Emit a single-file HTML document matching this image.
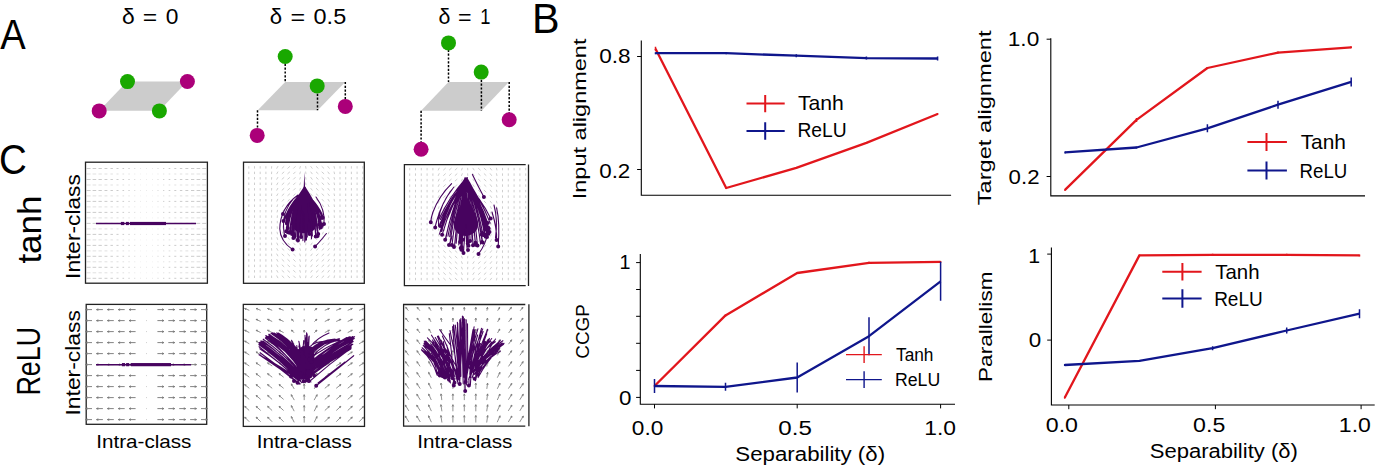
<!DOCTYPE html><html><head><meta charset="utf-8"><style>html,body{margin:0;padding:0;background:#fff;overflow:hidden}svg{display:block}text{font-family:"Liberation Sans",sans-serif}</style></head><body><svg width="1376" height="467" viewBox="0 0 1376 467"><rect width="1376" height="467" fill="#fff"/><text x="0.33" y="49.30" font-size="42.15" textLength="25.45" lengthAdjust="spacingAndGlyphs" fill="#000">A</text>
<text x="532.01" y="33.00" font-size="41.72" textLength="27.57" lengthAdjust="spacingAndGlyphs" fill="#000">B</text>
<text x="-1.06" y="174.00" font-size="42.73" textLength="27.82" lengthAdjust="spacingAndGlyphs" fill="#000">C</text>
<text x="121.94" y="24.20" font-size="22.38" textLength="12.73" lengthAdjust="spacingAndGlyphs" fill="#000">δ</text>
<text x="142.89" y="25.40" font-size="21.71" textLength="14.42" lengthAdjust="spacingAndGlyphs" fill="#000">=</text>
<text x="165.81" y="24.20" font-size="22.38" textLength="12.68" lengthAdjust="spacingAndGlyphs" fill="#000">0</text>
<text x="269.67" y="24.20" font-size="22.38" textLength="12.38" lengthAdjust="spacingAndGlyphs" fill="#000">δ</text>
<text x="290.57" y="25.40" font-size="21.71" textLength="14.66" lengthAdjust="spacingAndGlyphs" fill="#000">=</text>
<text x="313.58" y="24.20" font-size="22.38" textLength="32.60" lengthAdjust="spacingAndGlyphs" fill="#000">0.5</text>
<text x="438.50" y="24.20" font-size="22.38" textLength="11.91" lengthAdjust="spacingAndGlyphs" fill="#000">δ</text>
<text x="458.06" y="25.40" font-size="21.71" textLength="13.58" lengthAdjust="spacingAndGlyphs" fill="#000">=</text>
<text x="480.30" y="24.20" font-size="22.38" textLength="10.19" lengthAdjust="spacingAndGlyphs" fill="#000">1</text>
<polygon points="99.2,110.8 159.2,110.8 187.2,81.6 127.2,81.6" fill="#cccccc"/>
<circle cx="127.5" cy="81.6" r="7.5" fill="#19a800"/>
<circle cx="187.4" cy="81.5" r="7.5" fill="#ab0079"/>
<circle cx="99.2" cy="110.9" r="7.5" fill="#ab0079"/>
<circle cx="159.4" cy="110.9" r="7.5" fill="#19a800"/>
<polygon points="257.7,110.2 317.7,110.2 345.2,81.9 285.2,81.9" fill="#cccccc"/>
<line x1="285.2" y1="60" x2="285.2" y2="81.9" stroke="#000" stroke-width="1.5" stroke-dasharray="2.2,1.6"/>
<line x1="317.5" y1="90" x2="317.5" y2="110.2" stroke="#000" stroke-width="1.5" stroke-dasharray="2.2,1.6"/>
<line x1="345.3" y1="81.9" x2="345.3" y2="101" stroke="#000" stroke-width="1.5" stroke-dasharray="2.2,1.6"/>
<line x1="257.5" y1="110.2" x2="257.5" y2="131" stroke="#000" stroke-width="1.5" stroke-dasharray="2.2,1.6"/>
<circle cx="285.2" cy="56.5" r="7.5" fill="#19a800"/>
<circle cx="317.2" cy="85.9" r="7.5" fill="#19a800"/>
<circle cx="345.3" cy="106.4" r="7.5" fill="#ab0079"/>
<circle cx="257.2" cy="135.4" r="7.5" fill="#ab0079"/>
<polygon points="421.1,110.8 481.5,110.8 508.9,81.9 448.5,81.9" fill="#cccccc"/>
<line x1="448.5" y1="46" x2="448.5" y2="81.9" stroke="#000" stroke-width="1.5" stroke-dasharray="2.2,1.6"/>
<line x1="481.4" y1="76" x2="481.4" y2="110.8" stroke="#000" stroke-width="1.5" stroke-dasharray="2.2,1.6"/>
<line x1="509.2" y1="81.9" x2="509.2" y2="114" stroke="#000" stroke-width="1.5" stroke-dasharray="2.2,1.6"/>
<line x1="421.1" y1="110.8" x2="421.1" y2="144" stroke="#000" stroke-width="1.5" stroke-dasharray="2.2,1.6"/>
<circle cx="448.5" cy="42.9" r="7.5" fill="#19a800"/>
<circle cx="481.2" cy="72.1" r="7.5" fill="#19a800"/>
<circle cx="509.2" cy="119.8" r="7.5" fill="#ab0079"/>
<circle cx="421.1" cy="149.2" r="7.5" fill="#ab0079"/>
<rect x="85.5" y="162.2" width="121.9" height="121.0" fill="none" stroke="#222" stroke-width="1.3"/>
<path d="M86.6 168.5L90.6 168.5M92.6 168.5L96.2 168.5M98.5 168.5L101.8 168.5M104.5 168.5L107.4 168.5M110.5 168.5L112.9 168.5M116.5 168.5L118.5 168.5M122.5 168.5L124.1 168.5M128.4 168.5L129.7 168.5M134.4 168.5L135.2 168.5M140.4 168.5L140.8 168.5M146.4 168.5h0.4M152.4 168.5L152.0 168.5M158.4 168.5L157.6 168.5M164.3 168.5L163.1 168.5M170.3 168.5L168.7 168.5M176.3 168.5L174.3 168.5M182.3 168.5L179.9 168.5M188.3 168.5L185.4 168.5M194.3 168.5L191.0 168.5M200.2 168.5L196.6 168.5M206.2 168.5L202.2 168.5M86.6 179.5L90.6 179.5M92.6 179.5L96.2 179.5M98.5 179.5L101.8 179.5M104.5 179.5L107.4 179.5M110.5 179.5L112.9 179.5M116.5 179.5L118.5 179.5M122.5 179.5L124.1 179.5M128.4 179.5L129.7 179.5M134.4 179.5L135.2 179.5M140.4 179.5L140.8 179.5M146.4 179.5h0.4M152.4 179.5L152.0 179.5M158.4 179.5L157.6 179.5M164.3 179.5L163.1 179.5M170.3 179.5L168.7 179.5M176.3 179.5L174.3 179.5M182.3 179.5L179.9 179.5M188.3 179.5L185.4 179.5M194.3 179.5L191.0 179.5M200.2 179.5L196.6 179.5M206.2 179.5L202.2 179.5M86.6 190.5L90.6 190.5M92.6 190.5L96.2 190.5M98.5 190.5L101.8 190.5M104.5 190.5L107.4 190.5M110.5 190.5L112.9 190.5M116.5 190.5L118.5 190.5M122.5 190.5L124.1 190.5M128.4 190.5L129.7 190.5M134.4 190.5L135.2 190.5M140.4 190.5L140.8 190.5M146.4 190.5h0.4M152.4 190.5L152.0 190.5M158.4 190.5L157.6 190.5M164.3 190.5L163.1 190.5M170.3 190.5L168.7 190.5M176.3 190.5L174.3 190.5M182.3 190.5L179.9 190.5M188.3 190.5L185.4 190.5M194.3 190.5L191.0 190.5M200.2 190.5L196.6 190.5M206.2 190.5L202.2 190.5M86.6 201.4L90.6 201.4M92.6 201.4L96.2 201.4M98.5 201.4L101.8 201.4M104.5 201.4L107.4 201.4M110.5 201.4L112.9 201.4M116.5 201.4L118.5 201.4M122.5 201.4L124.1 201.4M128.4 201.4L129.7 201.4M134.4 201.4L135.2 201.4M140.4 201.4L140.8 201.4M146.4 201.4h0.4M152.4 201.4L152.0 201.4M158.4 201.4L157.6 201.4M164.3 201.4L163.1 201.4M170.3 201.4L168.7 201.4M176.3 201.4L174.3 201.4M182.3 201.4L179.9 201.4M188.3 201.4L185.4 201.4M194.3 201.4L191.0 201.4M200.2 201.4L196.6 201.4M206.2 201.4L202.2 201.4M86.6 212.4L90.6 212.4M92.6 212.4L96.2 212.4M98.5 212.4L101.8 212.4M104.5 212.4L107.4 212.4M110.5 212.4L112.9 212.4M116.5 212.4L118.5 212.4M122.5 212.4L124.1 212.4M128.4 212.4L129.7 212.4M134.4 212.4L135.2 212.4M140.4 212.4L140.8 212.4M146.4 212.4h0.4M152.4 212.4L152.0 212.4M158.4 212.4L157.6 212.4M164.3 212.4L163.1 212.4M170.3 212.4L168.7 212.4M176.3 212.4L174.3 212.4M182.3 212.4L179.9 212.4M188.3 212.4L185.4 212.4M194.3 212.4L191.0 212.4M200.2 212.4L196.6 212.4M206.2 212.4L202.2 212.4M86.6 223.4L90.6 223.4M92.6 223.4L96.2 223.4M98.5 223.4L101.8 223.4M104.5 223.4L107.4 223.4M110.5 223.4L112.9 223.4M116.5 223.4L118.5 223.4M122.5 223.4L124.1 223.4M128.4 223.4L129.7 223.4M134.4 223.4L135.2 223.4M140.4 223.4L140.8 223.4M146.4 223.4h0.4M152.4 223.4L152.0 223.4M158.4 223.4L157.6 223.4M164.3 223.4L163.1 223.4M170.3 223.4L168.7 223.4M176.3 223.4L174.3 223.4M182.3 223.4L179.9 223.4M188.3 223.4L185.4 223.4M194.3 223.4L191.0 223.4M200.2 223.4L196.6 223.4M206.2 223.4L202.2 223.4M86.6 234.4L90.6 234.4M92.6 234.4L96.2 234.4M98.5 234.4L101.8 234.4M104.5 234.4L107.4 234.4M110.5 234.4L112.9 234.4M116.5 234.4L118.5 234.4M122.5 234.4L124.1 234.4M128.4 234.4L129.7 234.4M134.4 234.4L135.2 234.4M140.4 234.4L140.8 234.4M146.4 234.4h0.4M152.4 234.4L152.0 234.4M158.4 234.4L157.6 234.4M164.3 234.4L163.1 234.4M170.3 234.4L168.7 234.4M176.3 234.4L174.3 234.4M182.3 234.4L179.9 234.4M188.3 234.4L185.4 234.4M194.3 234.4L191.0 234.4M200.2 234.4L196.6 234.4M206.2 234.4L202.2 234.4M86.6 245.4L90.6 245.4M92.6 245.4L96.2 245.4M98.5 245.4L101.8 245.4M104.5 245.4L107.4 245.4M110.5 245.4L112.9 245.4M116.5 245.4L118.5 245.4M122.5 245.4L124.1 245.4M128.4 245.4L129.7 245.4M134.4 245.4L135.2 245.4M140.4 245.4L140.8 245.4M146.4 245.4h0.4M152.4 245.4L152.0 245.4M158.4 245.4L157.6 245.4M164.3 245.4L163.1 245.4M170.3 245.4L168.7 245.4M176.3 245.4L174.3 245.4M182.3 245.4L179.9 245.4M188.3 245.4L185.4 245.4M194.3 245.4L191.0 245.4M200.2 245.4L196.6 245.4M206.2 245.4L202.2 245.4M86.6 256.3L90.6 256.3M92.6 256.3L96.2 256.3M98.5 256.3L101.8 256.3M104.5 256.3L107.4 256.3M110.5 256.3L112.9 256.3M116.5 256.3L118.5 256.3M122.5 256.3L124.1 256.3M128.4 256.3L129.7 256.3M134.4 256.3L135.2 256.3M140.4 256.3L140.8 256.3M146.4 256.3h0.4M152.4 256.3L152.0 256.3M158.4 256.3L157.6 256.3M164.3 256.3L163.1 256.3M170.3 256.3L168.7 256.3M176.3 256.3L174.3 256.3M182.3 256.3L179.9 256.3M188.3 256.3L185.4 256.3M194.3 256.3L191.0 256.3M200.2 256.3L196.6 256.3M206.2 256.3L202.2 256.3M86.6 267.3L90.6 267.3M92.6 267.3L96.2 267.3M98.5 267.3L101.8 267.3M104.5 267.3L107.4 267.3M110.5 267.3L112.9 267.3M116.5 267.3L118.5 267.3M122.5 267.3L124.1 267.3M128.4 267.3L129.7 267.3M134.4 267.3L135.2 267.3M140.4 267.3L140.8 267.3M146.4 267.3h0.4M152.4 267.3L152.0 267.3M158.4 267.3L157.6 267.3M164.3 267.3L163.1 267.3M170.3 267.3L168.7 267.3M176.3 267.3L174.3 267.3M182.3 267.3L179.9 267.3M188.3 267.3L185.4 267.3M194.3 267.3L191.0 267.3M200.2 267.3L196.6 267.3M206.2 267.3L202.2 267.3M86.6 278.3L90.6 278.3M92.6 278.3L96.2 278.3M98.5 278.3L101.8 278.3M104.5 278.3L107.4 278.3M110.5 278.3L112.9 278.3M116.5 278.3L118.5 278.3M122.5 278.3L124.1 278.3M128.4 278.3L129.7 278.3M134.4 278.3L135.2 278.3M140.4 278.3L140.8 278.3M146.4 278.3h0.4M152.4 278.3L152.0 278.3M158.4 278.3L157.6 278.3M164.3 278.3L163.1 278.3M170.3 278.3L168.7 278.3M176.3 278.3L174.3 278.3M182.3 278.3L179.9 278.3M188.3 278.3L185.4 278.3M194.3 278.3L191.0 278.3M200.2 278.3L196.6 278.3M206.2 278.3L202.2 278.3" stroke="#666" stroke-width="1.0" fill="none" opacity="0.34"/>
<path d="M86.6 174.0L90.6 174.0M92.6 174.0L96.2 174.0M98.5 174.0L101.8 174.0M104.5 174.0L107.4 174.0M110.5 174.0L112.9 174.0M116.5 174.0L118.5 174.0M122.5 174.0L124.1 174.0M128.4 174.0L129.7 174.0M134.4 174.0L135.2 174.0M140.4 174.0L140.8 174.0M146.4 174.0h0.4M152.4 174.0L152.0 174.0M158.4 174.0L157.6 174.0M164.3 174.0L163.1 174.0M170.3 174.0L168.7 174.0M176.3 174.0L174.3 174.0M182.3 174.0L179.9 174.0M188.3 174.0L185.4 174.0M194.3 174.0L191.0 174.0M200.2 174.0L196.6 174.0M206.2 174.0L202.2 174.0M86.6 185.0L90.6 185.0M92.6 185.0L96.2 185.0M98.5 185.0L101.8 185.0M104.5 185.0L107.4 185.0M110.5 185.0L112.9 185.0M116.5 185.0L118.5 185.0M122.5 185.0L124.1 185.0M128.4 185.0L129.7 185.0M134.4 185.0L135.2 185.0M140.4 185.0L140.8 185.0M146.4 185.0h0.4M152.4 185.0L152.0 185.0M158.4 185.0L157.6 185.0M164.3 185.0L163.1 185.0M170.3 185.0L168.7 185.0M176.3 185.0L174.3 185.0M182.3 185.0L179.9 185.0M188.3 185.0L185.4 185.0M194.3 185.0L191.0 185.0M200.2 185.0L196.6 185.0M206.2 185.0L202.2 185.0M86.6 195.9L90.6 195.9M92.6 195.9L96.2 195.9M98.5 195.9L101.8 195.9M104.5 195.9L107.4 195.9M110.5 195.9L112.9 195.9M116.5 195.9L118.5 195.9M122.5 195.9L124.1 195.9M128.4 195.9L129.7 195.9M134.4 195.9L135.2 195.9M140.4 195.9L140.8 195.9M146.4 195.9h0.4M152.4 195.9L152.0 195.9M158.4 195.9L157.6 195.9M164.3 195.9L163.1 195.9M170.3 195.9L168.7 195.9M176.3 195.9L174.3 195.9M182.3 195.9L179.9 195.9M188.3 195.9L185.4 195.9M194.3 195.9L191.0 195.9M200.2 195.9L196.6 195.9M206.2 195.9L202.2 195.9M86.6 206.9L90.6 206.9M92.6 206.9L96.2 206.9M98.5 206.9L101.8 206.9M104.5 206.9L107.4 206.9M110.5 206.9L112.9 206.9M116.5 206.9L118.5 206.9M122.5 206.9L124.1 206.9M128.4 206.9L129.7 206.9M134.4 206.9L135.2 206.9M140.4 206.9L140.8 206.9M146.4 206.9h0.4M152.4 206.9L152.0 206.9M158.4 206.9L157.6 206.9M164.3 206.9L163.1 206.9M170.3 206.9L168.7 206.9M176.3 206.9L174.3 206.9M182.3 206.9L179.9 206.9M188.3 206.9L185.4 206.9M194.3 206.9L191.0 206.9M200.2 206.9L196.6 206.9M206.2 206.9L202.2 206.9M86.6 217.9L90.6 217.9M92.6 217.9L96.2 217.9M98.5 217.9L101.8 217.9M104.5 217.9L107.4 217.9M110.5 217.9L112.9 217.9M116.5 217.9L118.5 217.9M122.5 217.9L124.1 217.9M128.4 217.9L129.7 217.9M134.4 217.9L135.2 217.9M140.4 217.9L140.8 217.9M146.4 217.9h0.4M152.4 217.9L152.0 217.9M158.4 217.9L157.6 217.9M164.3 217.9L163.1 217.9M170.3 217.9L168.7 217.9M176.3 217.9L174.3 217.9M182.3 217.9L179.9 217.9M188.3 217.9L185.4 217.9M194.3 217.9L191.0 217.9M200.2 217.9L196.6 217.9M206.2 217.9L202.2 217.9M86.6 228.9L90.6 228.9M92.6 228.9L96.2 228.9M98.5 228.9L101.8 228.9M104.5 228.9L107.4 228.9M110.5 228.9L112.9 228.9M116.5 228.9L118.5 228.9M122.5 228.9L124.1 228.9M128.4 228.9L129.7 228.9M134.4 228.9L135.2 228.9M140.4 228.9L140.8 228.9M146.4 228.9h0.4M152.4 228.9L152.0 228.9M158.4 228.9L157.6 228.9M164.3 228.9L163.1 228.9M170.3 228.9L168.7 228.9M176.3 228.9L174.3 228.9M182.3 228.9L179.9 228.9M188.3 228.9L185.4 228.9M194.3 228.9L191.0 228.9M200.2 228.9L196.6 228.9M206.2 228.9L202.2 228.9M86.6 239.9L90.6 239.9M92.6 239.9L96.2 239.9M98.5 239.9L101.8 239.9M104.5 239.9L107.4 239.9M110.5 239.9L112.9 239.9M116.5 239.9L118.5 239.9M122.5 239.9L124.1 239.9M128.4 239.9L129.7 239.9M134.4 239.9L135.2 239.9M140.4 239.9L140.8 239.9M146.4 239.9h0.4M152.4 239.9L152.0 239.9M158.4 239.9L157.6 239.9M164.3 239.9L163.1 239.9M170.3 239.9L168.7 239.9M176.3 239.9L174.3 239.9M182.3 239.9L179.9 239.9M188.3 239.9L185.4 239.9M194.3 239.9L191.0 239.9M200.2 239.9L196.6 239.9M206.2 239.9L202.2 239.9M86.6 250.9L90.6 250.9M92.6 250.9L96.2 250.9M98.5 250.9L101.8 250.9M104.5 250.9L107.4 250.9M110.5 250.9L112.9 250.9M116.5 250.9L118.5 250.9M122.5 250.9L124.1 250.9M128.4 250.9L129.7 250.9M134.4 250.9L135.2 250.9M140.4 250.9L140.8 250.9M146.4 250.9h0.4M152.4 250.9L152.0 250.9M158.4 250.9L157.6 250.9M164.3 250.9L163.1 250.9M170.3 250.9L168.7 250.9M176.3 250.9L174.3 250.9M182.3 250.9L179.9 250.9M188.3 250.9L185.4 250.9M194.3 250.9L191.0 250.9M200.2 250.9L196.6 250.9M206.2 250.9L202.2 250.9M86.6 261.8L90.6 261.8M92.6 261.8L96.2 261.8M98.5 261.8L101.8 261.8M104.5 261.8L107.4 261.8M110.5 261.8L112.9 261.8M116.5 261.8L118.5 261.8M122.5 261.8L124.1 261.8M128.4 261.8L129.7 261.8M134.4 261.8L135.2 261.8M140.4 261.8L140.8 261.8M146.4 261.8h0.4M152.4 261.8L152.0 261.8M158.4 261.8L157.6 261.8M164.3 261.8L163.1 261.8M170.3 261.8L168.7 261.8M176.3 261.8L174.3 261.8M182.3 261.8L179.9 261.8M188.3 261.8L185.4 261.8M194.3 261.8L191.0 261.8M200.2 261.8L196.6 261.8M206.2 261.8L202.2 261.8M86.6 272.8L90.6 272.8M92.6 272.8L96.2 272.8M98.5 272.8L101.8 272.8M104.5 272.8L107.4 272.8M110.5 272.8L112.9 272.8M116.5 272.8L118.5 272.8M122.5 272.8L124.1 272.8M128.4 272.8L129.7 272.8M134.4 272.8L135.2 272.8M140.4 272.8L140.8 272.8M146.4 272.8h0.4M152.4 272.8L152.0 272.8M158.4 272.8L157.6 272.8M164.3 272.8L163.1 272.8M170.3 272.8L168.7 272.8M176.3 272.8L174.3 272.8M182.3 272.8L179.9 272.8M188.3 272.8L185.4 272.8M194.3 272.8L191.0 272.8M200.2 272.8L196.6 272.8M206.2 272.8L202.2 272.8" stroke="#888" stroke-width="1.0" fill="none" opacity="0.25"/>
<rect x="86.2" y="304.4" width="120.49999999999999" height="119.90000000000003" fill="none" stroke="#222" stroke-width="1.3"/>
<path d="M92.0 309.6L85.6 309.6M87.4 308.8L85.6 309.6L87.4 310.4M102.9 309.6L96.5 309.6M98.3 308.8L96.5 309.6L98.3 310.4M113.8 309.6L107.4 309.6M109.2 308.8L107.4 309.6L109.2 310.4M124.7 309.6L118.3 309.6M120.1 308.8L118.3 309.6L120.1 310.4M135.6 309.6L129.2 309.6M131.0 308.8L129.2 309.6L131.0 310.4M146.5 309.6h0.4M157.4 309.6L163.8 309.6M162.0 310.4L163.8 309.6L162.0 308.8M168.3 309.6L174.7 309.6M172.9 310.4L174.7 309.6L172.9 308.8M179.2 309.6L185.6 309.6M183.8 310.4L185.6 309.6L183.8 308.8M190.1 309.6L196.5 309.6M194.7 310.4L196.5 309.6L194.7 308.8M201.0 309.6L207.4 309.6M205.6 310.4L207.4 309.6L205.6 308.8M92.0 320.6L85.6 320.6M87.4 319.8L85.6 320.6L87.4 321.4M102.9 320.6L96.5 320.6M98.3 319.8L96.5 320.6L98.3 321.4M113.8 320.6L107.4 320.6M109.2 319.8L107.4 320.6L109.2 321.4M124.7 320.6L118.3 320.6M120.1 319.8L118.3 320.6L120.1 321.4M135.6 320.6L129.2 320.6M131.0 319.8L129.2 320.6L131.0 321.4M146.5 320.6h0.4M157.4 320.6L163.8 320.6M162.0 321.4L163.8 320.6L162.0 319.8M168.3 320.6L174.7 320.6M172.9 321.4L174.7 320.6L172.9 319.8M179.2 320.6L185.6 320.6M183.8 321.4L185.6 320.6L183.8 319.8M190.1 320.6L196.5 320.6M194.7 321.4L196.5 320.6L194.7 319.8M201.0 320.6L207.4 320.6M205.6 321.4L207.4 320.6L205.6 319.8M92.0 331.6L85.6 331.6M87.4 330.8L85.6 331.6L87.4 332.4M102.9 331.6L96.5 331.6M98.3 330.8L96.5 331.6L98.3 332.4M113.8 331.6L107.4 331.6M109.2 330.8L107.4 331.6L109.2 332.4M124.7 331.6L118.3 331.6M120.1 330.8L118.3 331.6L120.1 332.4M135.6 331.6L129.2 331.6M131.0 330.8L129.2 331.6L131.0 332.4M146.5 331.6h0.4M157.4 331.6L163.8 331.6M162.0 332.4L163.8 331.6L162.0 330.8M168.3 331.6L174.7 331.6M172.9 332.4L174.7 331.6L172.9 330.8M179.2 331.6L185.6 331.6M183.8 332.4L185.6 331.6L183.8 330.8M190.1 331.6L196.5 331.6M194.7 332.4L196.5 331.6L194.7 330.8M201.0 331.6L207.4 331.6M205.6 332.4L207.4 331.6L205.6 330.8M92.0 342.6L85.6 342.6M87.4 341.8L85.6 342.6L87.4 343.4M102.9 342.6L96.5 342.6M98.3 341.8L96.5 342.6L98.3 343.4M113.8 342.6L107.4 342.6M109.2 341.8L107.4 342.6L109.2 343.4M124.7 342.6L118.3 342.6M120.1 341.8L118.3 342.6L120.1 343.4M135.6 342.6L129.2 342.6M131.0 341.8L129.2 342.6L131.0 343.4M146.5 342.6h0.4M157.4 342.6L163.8 342.6M162.0 343.4L163.8 342.6L162.0 341.8M168.3 342.6L174.7 342.6M172.9 343.4L174.7 342.6L172.9 341.8M179.2 342.6L185.6 342.6M183.8 343.4L185.6 342.6L183.8 341.8M190.1 342.6L196.5 342.6M194.7 343.4L196.5 342.6L194.7 341.8M201.0 342.6L207.4 342.6M205.6 343.4L207.4 342.6L205.6 341.8M92.0 353.6L85.6 353.6M87.4 352.8L85.6 353.6L87.4 354.4M102.9 353.6L96.5 353.6M98.3 352.8L96.5 353.6L98.3 354.4M113.8 353.6L107.4 353.6M109.2 352.8L107.4 353.6L109.2 354.4M124.7 353.6L118.3 353.6M120.1 352.8L118.3 353.6L120.1 354.4M135.6 353.6L129.2 353.6M131.0 352.8L129.2 353.6L131.0 354.4M146.5 353.6h0.4M157.4 353.6L163.8 353.6M162.0 354.4L163.8 353.6L162.0 352.8M168.3 353.6L174.7 353.6M172.9 354.4L174.7 353.6L172.9 352.8M179.2 353.6L185.6 353.6M183.8 354.4L185.6 353.6L183.8 352.8M190.1 353.6L196.5 353.6M194.7 354.4L196.5 353.6L194.7 352.8M201.0 353.6L207.4 353.6M205.6 354.4L207.4 353.6L205.6 352.8M92.0 364.6L85.6 364.6M87.4 363.8L85.6 364.6L87.4 365.4M102.9 364.6L96.5 364.6M98.3 363.8L96.5 364.6L98.3 365.4M113.8 364.6L107.4 364.6M109.2 363.8L107.4 364.6L109.2 365.4M124.7 364.6L118.3 364.6M120.1 363.8L118.3 364.6L120.1 365.4M135.6 364.6L129.2 364.6M131.0 363.8L129.2 364.6L131.0 365.4M146.5 364.6h0.4M157.4 364.6L163.8 364.6M162.0 365.4L163.8 364.6L162.0 363.8M168.3 364.6L174.7 364.6M172.9 365.4L174.7 364.6L172.9 363.8M179.2 364.6L185.6 364.6M183.8 365.4L185.6 364.6L183.8 363.8M190.1 364.6L196.5 364.6M194.7 365.4L196.5 364.6L194.7 363.8M201.0 364.6L207.4 364.6M205.6 365.4L207.4 364.6L205.6 363.8M92.0 375.6L85.6 375.6M87.4 374.8L85.6 375.6L87.4 376.4M102.9 375.6L96.5 375.6M98.3 374.8L96.5 375.6L98.3 376.4M113.8 375.6L107.4 375.6M109.2 374.8L107.4 375.6L109.2 376.4M124.7 375.6L118.3 375.6M120.1 374.8L118.3 375.6L120.1 376.4M135.6 375.6L129.2 375.6M131.0 374.8L129.2 375.6L131.0 376.4M146.5 375.6h0.4M157.4 375.6L163.8 375.6M162.0 376.4L163.8 375.6L162.0 374.8M168.3 375.6L174.7 375.6M172.9 376.4L174.7 375.6L172.9 374.8M179.2 375.6L185.6 375.6M183.8 376.4L185.6 375.6L183.8 374.8M190.1 375.6L196.5 375.6M194.7 376.4L196.5 375.6L194.7 374.8M201.0 375.6L207.4 375.6M205.6 376.4L207.4 375.6L205.6 374.8M92.0 386.6L85.6 386.6M87.4 385.8L85.6 386.6L87.4 387.4M102.9 386.6L96.5 386.6M98.3 385.8L96.5 386.6L98.3 387.4M113.8 386.6L107.4 386.6M109.2 385.8L107.4 386.6L109.2 387.4M124.7 386.6L118.3 386.6M120.1 385.8L118.3 386.6L120.1 387.4M135.6 386.6L129.2 386.6M131.0 385.8L129.2 386.6L131.0 387.4M146.5 386.6h0.4M157.4 386.6L163.8 386.6M162.0 387.4L163.8 386.6L162.0 385.8M168.3 386.6L174.7 386.6M172.9 387.4L174.7 386.6L172.9 385.8M179.2 386.6L185.6 386.6M183.8 387.4L185.6 386.6L183.8 385.8M190.1 386.6L196.5 386.6M194.7 387.4L196.5 386.6L194.7 385.8M201.0 386.6L207.4 386.6M205.6 387.4L207.4 386.6L205.6 385.8M92.0 397.6L85.6 397.6M87.4 396.8L85.6 397.6L87.4 398.4M102.9 397.6L96.5 397.6M98.3 396.8L96.5 397.6L98.3 398.4M113.8 397.6L107.4 397.6M109.2 396.8L107.4 397.6L109.2 398.4M124.7 397.6L118.3 397.6M120.1 396.8L118.3 397.6L120.1 398.4M135.6 397.6L129.2 397.6M131.0 396.8L129.2 397.6L131.0 398.4M146.5 397.6h0.4M157.4 397.6L163.8 397.6M162.0 398.4L163.8 397.6L162.0 396.8M168.3 397.6L174.7 397.6M172.9 398.4L174.7 397.6L172.9 396.8M179.2 397.6L185.6 397.6M183.8 398.4L185.6 397.6L183.8 396.8M190.1 397.6L196.5 397.6M194.7 398.4L196.5 397.6L194.7 396.8M201.0 397.6L207.4 397.6M205.6 398.4L207.4 397.6L205.6 396.8M92.0 408.6L85.6 408.6M87.4 407.8L85.6 408.6L87.4 409.4M102.9 408.6L96.5 408.6M98.3 407.8L96.5 408.6L98.3 409.4M113.8 408.6L107.4 408.6M109.2 407.8L107.4 408.6L109.2 409.4M124.7 408.6L118.3 408.6M120.1 407.8L118.3 408.6L120.1 409.4M135.6 408.6L129.2 408.6M131.0 407.8L129.2 408.6L131.0 409.4M146.5 408.6h0.4M157.4 408.6L163.8 408.6M162.0 409.4L163.8 408.6L162.0 407.8M168.3 408.6L174.7 408.6M172.9 409.4L174.7 408.6L172.9 407.8M179.2 408.6L185.6 408.6M183.8 409.4L185.6 408.6L183.8 407.8M190.1 408.6L196.5 408.6M194.7 409.4L196.5 408.6L194.7 407.8M201.0 408.6L207.4 408.6M205.6 409.4L207.4 408.6L205.6 407.8M92.0 419.6L85.6 419.6M87.4 418.8L85.6 419.6L87.4 420.4M102.9 419.6L96.5 419.6M98.3 418.8L96.5 419.6L98.3 420.4M113.8 419.6L107.4 419.6M109.2 418.8L107.4 419.6L109.2 420.4M124.7 419.6L118.3 419.6M120.1 418.8L118.3 419.6L120.1 420.4M135.6 419.6L129.2 419.6M131.0 418.8L129.2 419.6L131.0 420.4M146.5 419.6h0.4M157.4 419.6L163.8 419.6M162.0 420.4L163.8 419.6L162.0 418.8M168.3 419.6L174.7 419.6M172.9 420.4L174.7 419.6L172.9 418.8M179.2 419.6L185.6 419.6M183.8 420.4L185.6 419.6L183.8 418.8M190.1 419.6L196.5 419.6M194.7 420.4L196.5 419.6L194.7 418.8M201.0 419.6L207.4 419.6M205.6 420.4L207.4 419.6L205.6 418.8" stroke="#777" stroke-width="1.0" fill="none" opacity="0.9"/>
<line x1="96" y1="223.5" x2="196.1" y2="223.5" stroke="#47035f" stroke-width="1.5"/>
<rect x="120.9" y="221.9" width="3.299999999999997" height="3.2" fill="#47035f"/>
<rect x="126" y="221.9" width="2.9000000000000057" height="3.2" fill="#47035f"/>
<rect x="130" y="221.9" width="36" height="3.2" fill="#47035f"/>
<line x1="96" y1="364.65" x2="191.1" y2="364.65" stroke="#47035f" stroke-width="1.5"/>
<rect x="121.9" y="363.04999999999995" width="3.1999999999999886" height="3.2" fill="#47035f"/>
<rect x="126.1" y="363.04999999999995" width="3.0999999999999943" height="3.2" fill="#47035f"/>
<rect x="130.9" y="363.04999999999995" width="40.099999999999994" height="3.2" fill="#47035f"/>
<rect x="243.5" y="162.2" width="120.80000000000001" height="121.10000000000002" fill="none" stroke="#222" stroke-width="1.3"/>
<path d="M248.8 166.2L248.8 168.6M254.5 166.2L254.5 168.6M260.2 166.2L260.2 168.6M265.9 166.2L265.9 168.6M271.7 166.2L271.5 168.6M278.0 166.1L276.6 168.7M284.2 166.3L281.8 168.5M289.9 166.3L287.5 168.5M295.5 166.3L293.3 168.5M300.5 166.1L299.7 168.7M305.6 166.1L306.0 168.7M310.6 166.2L312.4 168.6M316.0 166.3L318.4 168.5M321.7 166.3L324.1 168.5M327.7 166.2L329.5 168.6M334.0 166.1L334.6 168.7M340.0 166.2L340.0 168.6M345.7 166.2L345.7 168.6M351.4 166.2L351.4 168.6M357.1 166.2L357.1 168.6M362.8 166.2L362.8 168.6M248.8 171.7L248.8 174.1M254.5 171.7L254.5 174.1M260.2 171.7L260.2 174.1M265.9 171.7L265.9 174.1M271.7 171.6L271.5 174.1M278.0 171.6L276.6 174.1M284.2 171.8L281.8 173.9M289.9 171.8L287.5 173.9M295.5 171.8L293.3 174.0M300.5 171.6L299.7 174.2M305.6 171.6L306.0 174.1M310.6 171.7L312.4 174.1M316.0 171.8L318.4 173.9M321.7 171.8L324.1 173.9M327.7 171.7L329.5 174.1M334.0 171.6L334.6 174.1M340.0 171.7L340.0 174.1M345.7 171.7L345.7 174.1M351.4 171.7L351.4 174.1M357.1 171.7L357.1 174.1M362.8 171.7L362.8 174.1M248.8 177.1L248.8 179.5M254.5 177.1L254.5 179.5M260.2 177.1L260.2 179.5M265.9 177.1L265.9 179.5M271.7 177.1L271.5 179.6M278.0 177.1L276.6 179.6M284.2 177.3L281.8 179.4M289.9 177.3L287.5 179.4M295.5 177.2L293.3 179.4M300.5 177.1L299.7 179.6M305.6 177.1L306.0 179.6M310.6 177.1L312.4 179.6M316.0 177.3L318.4 179.4M321.7 177.3L324.1 179.4M327.7 177.1L329.5 179.5M334.0 177.1L334.6 179.6M340.0 177.1L340.0 179.5M345.7 177.1L345.7 179.5M351.4 177.1L351.4 179.5M357.1 177.1L357.1 179.5M362.8 177.1L362.8 179.5M248.8 182.6L248.8 185.0M254.5 182.6L254.5 185.0M260.2 182.6L260.2 185.0M265.9 182.6L265.9 185.0M271.7 182.6L271.5 185.1M278.0 182.6L276.6 185.1M284.2 182.7L281.8 184.9M289.9 182.7L287.5 184.9M295.5 182.7L293.3 184.9M300.5 182.5L299.7 185.1M305.6 182.6L306.0 185.1M310.6 182.6L312.4 185.0M316.0 182.7L318.4 184.9M321.7 182.7L324.1 184.9M327.7 182.6L329.5 185.0M334.0 182.5L334.6 185.1M340.0 182.6L340.0 185.0M345.7 182.6L345.7 185.0M351.4 182.6L351.4 185.0M357.1 182.6L357.1 185.0M362.8 182.6L362.8 185.0M248.8 188.1L248.8 190.5M254.5 188.1L254.5 190.5M260.2 188.1L260.2 190.5M265.9 188.1L265.9 190.5M271.7 188.0L271.5 190.5M278.0 188.0L276.6 190.5M284.2 188.2L281.8 190.4M289.9 188.2L287.5 190.4M295.5 188.2L293.3 190.4M300.5 188.0L299.7 190.6M305.6 188.0L306.0 190.5M310.6 188.1L312.4 190.5M316.0 188.2L318.4 190.4M321.7 188.2L324.1 190.4M327.7 188.1L329.5 190.5M334.0 188.0L334.6 190.6M340.0 188.1L340.0 190.5M345.7 188.1L345.7 190.5M351.4 188.1L351.4 190.5M357.1 188.1L357.1 190.5M362.8 188.1L362.8 190.5M248.8 193.6L248.8 196.0M254.5 193.6L254.5 196.0M260.2 193.6L260.2 196.0M265.9 193.6L265.9 196.0M271.7 193.5L271.5 196.0M278.0 193.5L276.6 196.0M284.2 193.7L281.8 195.8M289.9 193.7L287.5 195.8M295.5 193.7L293.3 195.8M300.5 193.5L299.7 196.0M305.6 193.5L306.0 196.0M310.6 193.5L312.4 196.0M316.0 193.7L318.4 195.8M321.7 193.7L324.1 195.8M327.7 193.6L329.5 195.9M334.0 193.5L334.6 196.0M340.0 193.6L340.0 196.0M345.7 193.6L345.7 196.0M351.4 193.6L351.4 196.0M357.1 193.6L357.1 196.0M362.8 193.6L362.8 196.0M248.8 199.0L248.8 201.4M254.5 199.0L254.5 201.4M260.2 199.0L260.2 201.4M265.9 199.0L265.9 201.4M271.7 199.0L271.5 201.5M277.9 198.9L276.7 201.5M284.0 199.1L282.0 201.4M289.7 199.1L287.7 201.4M295.4 199.0L293.4 201.4M300.5 198.9L299.7 201.5M305.6 199.0L306.0 201.5M310.7 199.0L312.3 201.5M316.2 199.1L318.2 201.4M321.9 199.1L323.9 201.4M327.8 199.0L329.4 201.5M334.0 198.9L334.6 201.5M340.0 199.0L340.0 201.4M345.7 199.0L345.7 201.4M351.4 199.0L351.4 201.4M357.1 199.0L357.1 201.4M362.8 199.0L362.8 201.4M248.8 204.5L248.8 206.9M254.5 204.5L254.5 206.9M260.2 204.5L260.2 206.9M265.9 204.5L265.9 206.9M271.7 204.5L271.5 206.9M277.7 204.4L276.9 207.0M283.8 204.4L282.2 206.9M289.5 204.4L287.9 206.9M295.1 204.4L293.7 206.9M300.4 204.4L299.8 207.0M305.7 204.4L305.9 206.9M310.9 204.4L312.1 207.0M316.4 204.4L318.0 206.9M322.1 204.4L323.7 206.9M328.0 204.4L329.2 207.0M334.1 204.4L334.5 207.0M340.0 204.5L340.0 206.9M345.7 204.5L345.7 206.9M351.4 204.5L351.4 206.9M357.1 204.5L357.1 206.9M362.8 204.5L362.8 206.9M248.8 210.0L248.8 212.4M254.5 210.0L254.5 212.4M260.2 210.0L260.2 212.4M265.9 210.0L265.9 212.4M271.7 209.9L271.5 212.4M277.6 209.9L277.0 212.4M283.5 209.9L282.5 212.4M289.2 209.9L288.2 212.4M294.9 209.9L293.9 212.4M300.3 209.9L299.9 212.4M305.7 209.9L305.9 212.4M311.1 209.9L311.9 212.4M316.7 209.9L317.7 212.4M322.4 209.9L323.4 212.4M328.2 209.9L329.0 212.4M334.2 209.9L334.4 212.4M340.0 210.0L340.0 212.4M345.7 210.0L345.7 212.4M351.4 210.0L351.4 212.4M357.1 210.0L357.1 212.4M362.8 210.0L362.8 212.4M248.8 215.4L248.8 217.8M254.5 215.4L254.5 217.8M260.2 215.4L260.2 217.8M265.9 215.4L265.9 217.8M271.6 215.4L271.6 217.8M277.4 215.4L277.2 217.9M283.2 215.4L282.8 217.9M288.9 215.4L288.5 217.9M294.6 215.4L294.2 217.9M300.2 215.4L300.0 217.9M305.8 215.4L305.8 217.8M311.3 215.4L311.7 217.9M317.0 215.4L317.4 217.9M322.7 215.4L323.1 217.9M328.4 215.4L328.8 217.9M334.2 215.4L334.4 217.9M340.0 215.4L340.0 217.8M345.7 215.4L345.7 217.8M351.4 215.4L351.4 217.8M357.1 215.4L357.1 217.8M362.8 215.4L362.8 217.8M248.8 220.9L248.8 223.3M254.5 220.9L254.5 223.3M260.2 220.9L260.2 223.3M265.9 220.9L265.9 223.3M271.6 220.9L271.6 223.3M277.3 220.9L277.3 223.3M283.0 220.9L283.0 223.3M288.7 220.9L288.7 223.3M294.4 220.9L294.4 223.3M300.1 220.9L300.1 223.3M305.8 220.9L305.8 223.3M311.5 220.9L311.5 223.3M317.2 220.9L317.2 223.3M322.9 220.9L322.9 223.3M328.6 220.9L328.6 223.3M334.3 220.9L334.3 223.3M340.0 220.9L340.0 223.3M345.7 220.9L345.7 223.3M351.4 220.9L351.4 223.3M357.1 220.9L357.1 223.3M362.8 220.9L362.8 223.3M248.8 226.4L248.8 228.8M254.5 226.4L254.5 228.8M260.2 226.4L260.2 228.8M265.9 226.4L265.9 228.8M271.6 226.4L271.6 228.8M277.2 226.3L277.4 228.8M282.8 226.3L283.2 228.8M288.5 226.3L288.9 228.8M294.2 226.3L294.6 228.8M300.0 226.3L300.2 228.8M305.8 226.4L305.8 228.8M311.7 226.3L311.3 228.8M317.4 226.3L317.0 228.8M323.1 226.3L322.7 228.8M328.8 226.3L328.4 228.8M334.4 226.3L334.2 228.8M340.0 226.4L340.0 228.8M345.7 226.4L345.7 228.8M351.4 226.4L351.4 228.8M357.1 226.4L357.1 228.8M362.8 226.4L362.8 228.8M248.8 231.8L248.8 234.2M254.5 231.8L254.5 234.2M260.2 231.8L260.2 234.2M265.9 231.8L265.9 234.2M271.5 231.8L271.7 234.3M277.0 231.8L277.6 234.3M282.5 231.8L283.5 234.3M288.2 231.8L289.2 234.3M293.9 231.8L294.9 234.3M299.9 231.8L300.3 234.3M305.9 231.8L305.7 234.3M311.9 231.8L311.1 234.3M317.7 231.8L316.7 234.3M323.4 231.8L322.4 234.3M329.0 231.8L328.2 234.3M334.4 231.8L334.2 234.3M340.0 231.8L340.0 234.2M345.7 231.8L345.7 234.2M351.4 231.8L351.4 234.2M357.1 231.8L357.1 234.2M362.8 231.8L362.8 234.2M248.8 237.3L248.8 239.7M254.5 237.3L254.5 239.7M260.2 237.3L260.2 239.7M265.9 237.3L265.9 239.7M271.5 237.3L271.7 239.7M276.9 237.2L277.7 239.8M282.2 237.3L283.8 239.8M287.9 237.3L289.5 239.8M293.7 237.3L295.1 239.8M299.8 237.2L300.4 239.8M305.9 237.3L305.7 239.8M312.1 237.2L310.9 239.8M318.0 237.3L316.4 239.8M323.7 237.3L322.1 239.8M329.2 237.2L328.0 239.8M334.5 237.2L334.1 239.8M340.0 237.3L340.0 239.7M345.7 237.3L345.7 239.7M351.4 237.3L351.4 239.7M357.1 237.3L357.1 239.7M362.8 237.3L362.8 239.7M248.8 242.8L248.8 245.2M254.5 242.8L254.5 245.2M260.2 242.8L260.2 245.2M265.9 242.8L265.9 245.2M271.5 242.7L271.7 245.2M276.7 242.7L277.9 245.3M282.0 242.8L284.0 245.1M287.7 242.8L289.7 245.1M293.4 242.8L295.4 245.1M299.7 242.7L300.5 245.3M306.0 242.7L305.6 245.2M312.3 242.7L310.7 245.2M318.2 242.8L316.2 245.1M323.9 242.8L321.9 245.1M329.4 242.7L327.8 245.2M334.6 242.7L334.0 245.3M340.0 242.8L340.0 245.2M345.7 242.8L345.7 245.2M351.4 242.8L351.4 245.2M357.1 242.8L357.1 245.2M362.8 242.8L362.8 245.2M248.8 248.2L248.8 250.7M254.5 248.2L254.5 250.7M260.2 248.2L260.2 250.7M265.9 248.2L265.9 250.7M271.5 248.2L271.7 250.7M276.6 248.2L278.0 250.7M281.8 248.4L284.2 250.5M287.5 248.4L289.9 250.5M293.3 248.4L295.5 250.5M299.7 248.2L300.5 250.7M306.0 248.2L305.6 250.7M312.4 248.2L310.6 250.7M318.4 248.4L316.0 250.5M324.1 248.4L321.7 250.5M329.5 248.3L327.7 250.6M334.6 248.2L334.0 250.7M340.0 248.2L340.0 250.7M345.7 248.2L345.7 250.7M351.4 248.2L351.4 250.7M357.1 248.2L357.1 250.7M362.8 248.2L362.8 250.7M248.8 253.7L248.8 256.1M254.5 253.7L254.5 256.1M260.2 253.7L260.2 256.1M265.9 253.7L265.9 256.1M271.5 253.7L271.7 256.2M276.6 253.7L278.0 256.2M281.8 253.8L284.2 256.0M287.5 253.8L289.9 256.0M293.3 253.8L295.5 256.0M299.7 253.6L300.5 256.2M306.0 253.7L305.6 256.2M312.4 253.7L310.6 256.1M318.4 253.8L316.0 256.0M324.1 253.8L321.7 256.0M329.5 253.7L327.7 256.1M334.6 253.6L334.0 256.2M340.0 253.7L340.0 256.1M345.7 253.7L345.7 256.1M351.4 253.7L351.4 256.1M357.1 253.7L357.1 256.1M362.8 253.7L362.8 256.1M248.8 259.2L248.8 261.6M254.5 259.2L254.5 261.6M260.2 259.2L260.2 261.6M265.9 259.2L265.9 261.6M271.5 259.1L271.7 261.6M276.6 259.1L278.0 261.6M281.8 259.3L284.2 261.5M287.5 259.3L289.9 261.5M293.3 259.3L295.5 261.5M299.7 259.1L300.5 261.7M306.0 259.1L305.6 261.6M312.4 259.2L310.6 261.6M318.4 259.3L316.0 261.5M324.1 259.3L321.7 261.5M329.5 259.2L327.7 261.6M334.6 259.1L334.0 261.7M340.0 259.2L340.0 261.6M345.7 259.2L345.7 261.6M351.4 259.2L351.4 261.6M357.1 259.2L357.1 261.6M362.8 259.2L362.8 261.6M248.8 264.7L248.8 267.1M254.5 264.7L254.5 267.1M260.2 264.7L260.2 267.1M265.9 264.7L265.9 267.1M271.5 264.6L271.7 267.1M276.6 264.6L278.0 267.1M281.8 264.8L284.2 266.9M287.5 264.8L289.9 266.9M293.3 264.8L295.5 267.0M299.7 264.6L300.5 267.1M306.0 264.6L305.6 267.1M312.4 264.6L310.6 267.1M318.4 264.8L316.0 266.9M324.1 264.8L321.7 266.9M329.5 264.7L327.7 267.1M334.6 264.6L334.0 267.1M340.0 264.7L340.0 267.1M345.7 264.7L345.7 267.1M351.4 264.7L351.4 267.1M357.1 264.7L357.1 267.1M362.8 264.7L362.8 267.1M248.8 270.1L248.8 272.5M254.5 270.1L254.5 272.5M260.2 270.1L260.2 272.5M265.9 270.1L265.9 272.5M271.5 270.1L271.7 272.6M276.6 270.1L278.0 272.6M281.8 270.3L284.2 272.4M287.5 270.3L289.9 272.4M293.3 270.2L295.5 272.4M299.7 270.0L300.5 272.6M306.0 270.1L305.6 272.6M312.4 270.1L310.6 272.5M318.4 270.3L316.0 272.4M324.1 270.3L321.7 272.4M329.5 270.1L327.7 272.5M334.6 270.1L334.0 272.6M340.0 270.1L340.0 272.5M345.7 270.1L345.7 272.5M351.4 270.1L351.4 272.5M357.1 270.1L357.1 272.5M362.8 270.1L362.8 272.5M248.8 275.6L248.8 278.0M254.5 275.6L254.5 278.0M260.2 275.6L260.2 278.0M265.9 275.6L265.9 278.0M271.5 275.6L271.7 278.0M276.6 275.5L278.0 278.1M281.8 275.7L284.2 277.9M287.5 275.7L289.9 277.9M293.3 275.7L295.5 277.9M299.7 275.5L300.5 278.1M306.0 275.5L305.6 278.1M312.4 275.6L310.6 278.0M318.4 275.7L316.0 277.9M324.1 275.7L321.7 277.9M329.5 275.6L327.7 278.0M334.6 275.5L334.0 278.1M340.0 275.6L340.0 278.0M345.7 275.6L345.7 278.0M351.4 275.6L351.4 278.0M357.1 275.6L357.1 278.0M362.8 275.6L362.8 278.0" stroke="#888" stroke-width="1.0" fill="none" opacity="0.4"/>
<path d="M525.7 164.6H404.4V285.6H525.7M528.5 164.4V285.9" fill="none" stroke="#222" stroke-width="1.3"/>
<path d="M409.7 167.9L409.7 170.3M415.5 167.9L415.5 170.3M421.3 167.9L421.3 170.3M427.1 167.9L427.1 170.3M432.9 167.9L432.9 170.3M439.3 167.8L438.1 170.4M445.7 168.0L443.3 170.2M451.5 168.0L449.1 170.2M457.3 168.0L454.9 170.2M462.4 167.8L461.4 170.4M467.6 167.9L467.8 170.3M472.7 167.9L474.3 170.3M478.1 168.0L480.5 170.2M483.9 168.0L486.3 170.2M490.0 167.9L491.8 170.3M496.4 167.8L497.0 170.4M502.5 167.9L502.5 170.3M508.3 167.9L508.3 170.3M514.1 167.9L514.1 170.3M519.9 167.9L519.9 170.3M525.7 167.9L525.7 170.3M409.7 173.4L409.7 175.8M415.5 173.4L415.5 175.8M421.3 173.4L421.3 175.8M427.1 173.4L427.1 175.8M432.9 173.4L432.9 175.8M439.3 173.3L438.1 175.9M445.7 173.5L443.3 175.7M451.5 173.5L449.1 175.7M457.3 173.5L454.9 175.7M462.4 173.3L461.4 175.9M467.6 173.4L467.8 175.8M472.7 173.4L474.3 175.8M478.1 173.5L480.5 175.7M483.9 173.5L486.3 175.7M490.0 173.4L491.8 175.8M496.4 173.3L497.0 175.9M502.5 173.4L502.5 175.8M508.3 173.4L508.3 175.8M514.1 173.4L514.1 175.8M519.9 173.4L519.9 175.8M525.7 173.4L525.7 175.8M409.7 178.9L409.7 181.3M415.5 178.9L415.5 181.3M421.3 178.9L421.3 181.3M427.1 178.9L427.1 181.3M432.9 178.9L432.9 181.3M439.3 178.8L438.1 181.4M445.7 179.0L443.3 181.2M451.5 179.0L449.1 181.2M457.3 179.0L454.9 181.2M462.4 178.8L461.4 181.4M467.6 178.9L467.8 181.3M472.7 178.9L474.3 181.3M478.1 179.0L480.5 181.2M483.9 179.0L486.3 181.2M490.0 178.9L491.8 181.3M496.4 178.8L497.0 181.4M502.5 178.9L502.5 181.3M508.3 178.9L508.3 181.3M514.1 178.9L514.1 181.3M519.9 178.9L519.9 181.3M525.7 178.9L525.7 181.3M409.7 184.4L409.7 186.8M415.5 184.4L415.5 186.8M421.3 184.4L421.3 186.8M427.1 184.4L427.1 186.8M432.9 184.4L432.9 186.8M439.3 184.3L438.1 186.9M445.7 184.5L443.3 186.7M451.5 184.5L449.1 186.7M457.3 184.5L454.9 186.7M462.4 184.3L461.4 186.9M467.6 184.4L467.8 186.8M472.7 184.4L474.3 186.8M478.1 184.5L480.5 186.7M483.9 184.5L486.3 186.7M490.0 184.4L491.8 186.8M496.4 184.3L497.0 186.9M502.5 184.4L502.5 186.8M508.3 184.4L508.3 186.8M514.1 184.4L514.1 186.8M519.9 184.4L519.9 186.8M525.7 184.4L525.7 186.8M409.7 189.9L409.7 192.3M415.5 189.9L415.5 192.3M421.3 189.9L421.3 192.3M427.1 189.9L427.1 192.3M432.9 189.9L432.9 192.3M439.3 189.8L438.1 192.4M445.7 190.0L443.3 192.2M451.5 190.0L449.1 192.2M457.3 190.0L454.9 192.2M462.4 189.8L461.4 192.4M467.6 189.9L467.8 192.3M472.7 189.9L474.3 192.3M478.1 190.0L480.5 192.2M483.9 190.0L486.3 192.2M490.0 189.9L491.8 192.3M496.4 189.8L497.0 192.4M502.5 189.9L502.5 192.3M508.3 189.9L508.3 192.3M514.1 189.9L514.1 192.3M519.9 189.9L519.9 192.3M525.7 189.9L525.7 192.3M409.7 195.4L409.7 197.8M415.5 195.4L415.5 197.8M421.3 195.4L421.3 197.8M427.1 195.4L427.1 197.8M432.9 195.4L432.9 197.8M439.3 195.3L438.1 197.9M445.7 195.5L443.3 197.7M451.5 195.5L449.1 197.7M457.3 195.5L454.9 197.7M462.4 195.3L461.4 197.9M467.6 195.4L467.8 197.8M472.7 195.4L474.3 197.8M478.1 195.5L480.5 197.7M483.9 195.5L486.3 197.7M490.0 195.4L491.8 197.8M496.4 195.3L497.0 197.9M502.5 195.4L502.5 197.8M508.3 195.4L508.3 197.8M514.1 195.4L514.1 197.8M519.9 195.4L519.9 197.8M525.7 195.4L525.7 197.8M409.7 200.9L409.7 203.3M415.5 200.9L415.5 203.3M421.3 200.9L421.3 203.3M427.1 200.9L427.1 203.3M432.9 200.9L432.9 203.3M439.2 200.8L438.2 203.4M445.6 201.0L443.4 203.2M451.4 201.0L449.2 203.2M457.2 201.0L455.0 203.2M462.4 200.8L461.4 203.4M467.6 200.9L467.8 203.3M472.8 200.8L474.2 203.4M478.2 201.0L480.4 203.2M484.0 201.0L486.2 203.2M490.0 200.9L491.8 203.3M496.4 200.8L497.0 203.4M502.5 200.9L502.5 203.3M508.3 200.9L508.3 203.3M514.1 200.9L514.1 203.3M519.9 200.9L519.9 203.3M525.7 200.9L525.7 203.3M409.7 206.4L409.7 208.8M415.5 206.4L415.5 208.8M421.3 206.4L421.3 208.8M427.1 206.4L427.1 208.8M432.9 206.4L432.9 208.8M439.1 206.3L438.3 208.9M445.3 206.4L443.7 208.8M451.1 206.4L449.5 208.8M456.9 206.4L455.3 208.8M462.3 206.3L461.5 208.9M467.6 206.4L467.8 208.8M472.9 206.3L474.1 208.9M478.5 206.4L480.1 208.8M484.3 206.4L485.9 208.8M490.3 206.3L491.5 208.9M496.5 206.3L496.9 208.9M502.5 206.4L502.5 208.8M508.3 206.4L508.3 208.8M514.1 206.4L514.1 208.8M519.9 206.4L519.9 208.8M525.7 206.4L525.7 208.8M409.7 211.9L409.7 214.3M415.5 211.9L415.5 214.3M421.3 211.9L421.3 214.3M427.1 211.9L427.1 214.3M432.9 211.9L432.9 214.3M439.0 211.8L438.4 214.4M445.0 211.8L444.0 214.4M450.8 211.8L449.8 214.4M456.6 211.8L455.6 214.4M462.1 211.8L461.7 214.4M467.6 211.9L467.8 214.3M473.1 211.8L473.9 214.4M478.8 211.8L479.8 214.4M484.6 211.8L485.6 214.4M490.5 211.8L491.3 214.4M496.5 211.8L496.9 214.4M502.5 211.9L502.5 214.3M508.3 211.9L508.3 214.3M514.1 211.9L514.1 214.3M519.9 211.9L519.9 214.3M525.7 211.9L525.7 214.3M409.7 217.4L409.7 219.8M415.5 217.4L415.5 219.8M421.3 217.4L421.3 219.8M427.1 217.4L427.1 219.8M432.9 217.4L432.9 219.8M438.8 217.4L438.6 219.8M444.8 217.3L444.2 219.9M450.6 217.3L450.0 219.9M456.4 217.3L455.8 219.9M462.0 217.4L461.8 219.8M467.7 217.4L467.7 219.8M473.3 217.3L473.7 219.9M479.0 217.3L479.6 219.9M484.8 217.3L485.4 219.9M490.7 217.3L491.1 219.9M496.6 217.4L496.8 219.8M502.5 217.4L502.5 219.8M508.3 217.4L508.3 219.8M514.1 217.4L514.1 219.8M519.9 217.4L519.9 219.8M525.7 217.4L525.7 219.8M409.7 222.9L409.7 225.3M415.5 222.9L415.5 225.3M421.3 222.9L421.3 225.3M427.1 222.9L427.1 225.3M432.9 222.9L432.9 225.3M438.7 222.9L438.7 225.3M444.5 222.9L444.5 225.3M450.3 222.9L450.3 225.3M456.1 222.9L456.1 225.3M461.9 222.9L461.9 225.3M467.7 222.9L467.7 225.3M473.5 222.9L473.5 225.3M479.3 222.9L479.3 225.3M485.1 222.9L485.1 225.3M490.9 222.9L490.9 225.3M496.7 222.9L496.7 225.3M502.5 222.9L502.5 225.3M508.3 222.9L508.3 225.3M514.1 222.9L514.1 225.3M519.9 222.9L519.9 225.3M525.7 222.9L525.7 225.3M409.7 228.4L409.7 230.8M415.5 228.4L415.5 230.8M421.3 228.4L421.3 230.8M427.1 228.4L427.1 230.8M432.9 228.4L432.9 230.8M438.6 228.4L438.8 230.8M444.3 228.3L444.7 230.9M450.1 228.3L450.5 230.9M455.9 228.3L456.3 230.9M461.8 228.4L462.0 230.8M467.7 228.4L467.7 230.8M473.6 228.4L473.4 230.8M479.5 228.3L479.1 230.9M485.3 228.3L484.9 230.9M491.1 228.4L490.7 230.8M496.8 228.4L496.6 230.8M502.5 228.4L502.5 230.8M508.3 228.4L508.3 230.8M514.1 228.4L514.1 230.8M519.9 228.4L519.9 230.8M525.7 228.4L525.7 230.8M409.7 233.9L409.7 236.3M415.5 233.9L415.5 236.3M421.3 233.9L421.3 236.3M427.1 233.9L427.1 236.3M432.9 233.9L432.9 236.3M438.5 233.8L438.9 236.4M444.0 233.8L445.0 236.4M449.8 233.8L450.8 236.4M455.6 233.8L456.6 236.4M461.7 233.8L462.1 236.4M467.7 233.9L467.7 236.3M473.8 233.8L473.2 236.4M479.8 233.8L478.8 236.4M485.6 233.8L484.6 236.4M491.3 233.8L490.5 236.4M496.8 233.9L496.6 236.3M502.5 233.9L502.5 236.3M508.3 233.9L508.3 236.3M514.1 233.9L514.1 236.3M519.9 233.9L519.9 236.3M525.7 233.9L525.7 236.3M409.7 239.4L409.7 241.8M415.5 239.4L415.5 241.8M421.3 239.4L421.3 241.8M427.1 239.4L427.1 241.8M432.9 239.4L432.9 241.8M438.3 239.3L439.1 241.9M443.8 239.3L445.2 241.9M449.6 239.3L451.0 241.9M455.4 239.3L456.8 241.9M461.6 239.3L462.2 241.9M467.8 239.4L467.6 241.8M474.0 239.3L473.0 241.9M480.0 239.3L478.6 241.9M485.8 239.3L484.4 241.9M491.5 239.3L490.3 241.9M496.9 239.3L496.5 241.9M502.5 239.4L502.5 241.8M508.3 239.4L508.3 241.8M514.1 239.4L514.1 241.8M519.9 239.4L519.9 241.8M525.7 239.4L525.7 241.8M409.7 244.9L409.7 247.3M415.5 244.9L415.5 247.3M421.3 244.9L421.3 247.3M427.1 244.9L427.1 247.3M432.9 244.9L432.9 247.3M438.2 244.8L439.2 247.4M443.5 244.9L445.5 247.3M449.3 244.9L451.3 247.3M455.1 244.9L457.1 247.3M461.5 244.8L462.3 247.4M467.8 244.9L467.6 247.3M474.2 244.8L472.8 247.4M480.3 244.9L478.3 247.3M486.1 244.9L484.1 247.3M491.7 244.9L490.1 247.3M497.0 244.8L496.4 247.4M502.5 244.9L502.5 247.3M508.3 244.9L508.3 247.3M514.1 244.9L514.1 247.3M519.9 244.9L519.9 247.3M525.7 244.9L525.7 247.3M409.7 250.4L409.7 252.8M415.5 250.4L415.5 252.8M421.3 250.4L421.3 252.8M427.1 250.4L427.1 252.8M432.9 250.4L432.9 252.8M438.1 250.3L439.3 252.9M443.3 250.5L445.7 252.7M449.1 250.5L451.5 252.7M454.9 250.5L457.3 252.7M461.4 250.3L462.4 252.9M467.8 250.4L467.6 252.8M474.3 250.4L472.7 252.8M480.5 250.5L478.1 252.7M486.3 250.5L483.9 252.7M491.8 250.4L490.0 252.8M497.0 250.3L496.4 252.9M502.5 250.4L502.5 252.8M508.3 250.4L508.3 252.8M514.1 250.4L514.1 252.8M519.9 250.4L519.9 252.8M525.7 250.4L525.7 252.8M409.7 255.9L409.7 258.3M415.5 255.9L415.5 258.3M421.3 255.9L421.3 258.3M427.1 255.9L427.1 258.3M432.9 255.9L432.9 258.3M438.1 255.8L439.3 258.4M443.3 256.0L445.7 258.2M449.1 256.0L451.5 258.2M454.9 256.0L457.3 258.2M461.4 255.8L462.4 258.4M467.8 255.9L467.6 258.3M474.3 255.9L472.7 258.3M480.5 256.0L478.1 258.2M486.3 256.0L483.9 258.2M491.8 255.9L490.0 258.3M497.0 255.8L496.4 258.4M502.5 255.9L502.5 258.3M508.3 255.9L508.3 258.3M514.1 255.9L514.1 258.3M519.9 255.9L519.9 258.3M525.7 255.9L525.7 258.3M409.7 261.4L409.7 263.8M415.5 261.4L415.5 263.8M421.3 261.4L421.3 263.8M427.1 261.4L427.1 263.8M432.9 261.4L432.9 263.8M438.1 261.3L439.3 263.9M443.3 261.5L445.7 263.7M449.1 261.5L451.5 263.7M454.9 261.5L457.3 263.7M461.4 261.3L462.4 263.9M467.8 261.4L467.6 263.8M474.3 261.4L472.7 263.8M480.5 261.5L478.1 263.7M486.3 261.5L483.9 263.7M491.8 261.4L490.0 263.8M497.0 261.3L496.4 263.9M502.5 261.4L502.5 263.8M508.3 261.4L508.3 263.8M514.1 261.4L514.1 263.8M519.9 261.4L519.9 263.8M525.7 261.4L525.7 263.8M409.7 266.9L409.7 269.3M415.5 266.9L415.5 269.3M421.3 266.9L421.3 269.3M427.1 266.9L427.1 269.3M432.9 266.9L432.9 269.3M438.1 266.8L439.3 269.4M443.3 267.0L445.7 269.2M449.1 267.0L451.5 269.2M454.9 267.0L457.3 269.2M461.4 266.8L462.4 269.4M467.8 266.9L467.6 269.3M474.3 266.9L472.7 269.3M480.5 267.0L478.1 269.2M486.3 267.0L483.9 269.2M491.8 266.9L490.0 269.3M497.0 266.8L496.4 269.4M502.5 266.9L502.5 269.3M508.3 266.9L508.3 269.3M514.1 266.9L514.1 269.3M519.9 266.9L519.9 269.3M525.7 266.9L525.7 269.3M409.7 272.4L409.7 274.8M415.5 272.4L415.5 274.8M421.3 272.4L421.3 274.8M427.1 272.4L427.1 274.8M432.9 272.4L432.9 274.8M438.1 272.3L439.3 274.9M443.3 272.5L445.7 274.7M449.1 272.5L451.5 274.7M454.9 272.5L457.3 274.7M461.4 272.3L462.4 274.9M467.8 272.4L467.6 274.8M474.3 272.4L472.7 274.8M480.5 272.5L478.1 274.7M486.3 272.5L483.9 274.7M491.8 272.4L490.0 274.8M497.0 272.3L496.4 274.9M502.5 272.4L502.5 274.8M508.3 272.4L508.3 274.8M514.1 272.4L514.1 274.8M519.9 272.4L519.9 274.8M525.7 272.4L525.7 274.8M409.7 277.9L409.7 280.3M415.5 277.9L415.5 280.3M421.3 277.9L421.3 280.3M427.1 277.9L427.1 280.3M432.9 277.9L432.9 280.3M438.1 277.8L439.3 280.4M443.3 278.0L445.7 280.2M449.1 278.0L451.5 280.2M454.9 278.0L457.3 280.2M461.4 277.8L462.4 280.4M467.8 277.9L467.6 280.3M474.3 277.9L472.7 280.3M480.5 278.0L478.1 280.2M486.3 278.0L483.9 280.2M491.8 277.9L490.0 280.3M497.0 277.8L496.4 280.4M502.5 277.9L502.5 280.3M508.3 277.9L508.3 280.3M514.1 277.9L514.1 280.3M519.9 277.9L519.9 280.3M525.7 277.9L525.7 280.3" stroke="#888" stroke-width="1.0" fill="none" opacity="0.4"/>
<rect x="243.3" y="304.4" width="121.19999999999999" height="122.0" fill="none" stroke="#222" stroke-width="1.3"/>
<path d="M249.3 310.3L244.6 308.5M246.6 308.4L244.6 308.5L246.0 309.9M260.7 310.3L256.1 308.5M258.0 308.4L256.1 308.5L257.5 309.9M272.2 310.3L267.5 308.5M269.5 308.4L267.5 308.5L268.9 309.9M283.6 310.3L279.0 308.5M280.9 308.4L279.0 308.5L280.4 309.9M294.0 310.4L291.5 308.4M293.4 308.9L291.5 308.4L292.4 310.2M304.2 310.4L304.2 308.4M314.4 310.4L316.9 308.4M316.0 310.2L316.9 308.4L315.0 308.9M324.8 310.3L329.4 308.5M328.0 309.9L329.4 308.5L327.5 308.4M336.2 310.3L340.9 308.5M339.5 309.9L340.9 308.5L338.9 308.4M347.7 310.3L352.3 308.5M350.9 309.9L352.3 308.5L350.4 308.4M359.1 310.3L363.8 308.5M362.4 309.9L363.8 308.5L361.8 308.4M249.3 321.5L244.6 319.3M246.6 319.4L244.6 319.3L245.9 320.8M260.7 321.5L256.1 319.3M258.0 319.4L256.1 319.3L257.4 320.8M272.2 321.5L267.5 319.3M269.5 319.4L267.5 319.3L268.8 320.8M283.6 321.5L279.0 319.3M280.9 319.4L279.0 319.3L280.3 320.8M294.0 321.6L291.5 319.2M293.3 319.9L291.5 319.2L292.2 321.0M304.2 321.6L304.2 319.2M314.4 321.6L316.9 319.2M316.2 321.0L316.9 319.2L315.1 319.9M324.8 321.5L329.4 319.3M328.1 320.8L329.4 319.3L327.5 319.4M336.2 321.5L340.9 319.3M339.6 320.8L340.9 319.3L338.9 319.4M347.7 321.5L352.3 319.3M351.0 320.8L352.3 319.3L350.4 319.4M359.1 321.5L363.8 319.3M362.5 320.8L363.8 319.3L361.8 319.4M249.3 332.6L244.6 330.2M246.6 330.3L244.6 330.2L245.8 331.7M260.7 332.6L256.1 330.2M258.0 330.3L256.1 330.2L257.3 331.7M272.2 332.6L267.5 330.2M269.5 330.3L267.5 330.2L268.7 331.7M283.6 332.6L279.0 330.2M280.9 330.3L279.0 330.2L280.2 331.7M294.1 332.8L291.4 330.0M293.3 330.8L291.4 330.0L292.1 331.9M304.2 332.8L304.2 330.0M305.0 331.8L304.2 330.0L303.4 331.8M314.3 332.8L317.0 330.0M316.3 331.9L317.0 330.0L315.1 330.8M324.8 332.6L329.4 330.2M328.2 331.7L329.4 330.2L327.5 330.3M336.2 332.6L340.9 330.2M339.7 331.7L340.9 330.2L338.9 330.3M347.7 332.6L352.3 330.2M351.1 331.7L352.3 330.2L350.4 330.3M359.1 332.6L363.8 330.2M362.6 331.7L363.8 330.2L361.8 330.3M249.3 343.8L244.6 341.0M246.6 341.3L244.6 341.0L245.8 342.6M260.7 343.8L256.1 341.0M258.0 341.3L256.1 341.0L257.2 342.6M272.2 343.8L267.5 341.0M269.5 341.3L267.5 341.0L268.7 342.6M283.6 343.8L279.0 341.0M280.9 341.3L279.0 341.0L280.1 342.6M294.1 344.0L291.4 340.8M293.2 341.7L291.4 340.8L292.0 342.7M304.2 344.0L304.2 340.8M305.0 342.6L304.2 340.8L303.4 342.6M314.3 344.0L317.0 340.8M316.4 342.7L317.0 340.8L315.2 341.7M324.8 343.8L329.4 341.0M328.3 342.6L329.4 341.0L327.5 341.3M336.2 343.8L340.9 341.0M339.7 342.6L340.9 341.0L338.9 341.3M347.7 343.8L352.3 341.0M351.2 342.6L352.3 341.0L350.4 341.3M359.1 343.8L363.8 341.0M362.6 342.6L363.8 341.0L361.8 341.3M249.3 354.9L244.6 351.9M246.6 352.2L244.6 351.9L245.7 353.5M260.7 354.9L256.1 351.9M258.0 352.2L256.1 351.9L257.1 353.5M272.2 354.9L267.5 351.9M269.5 352.2L267.5 351.9L268.6 353.5M283.6 354.9L279.0 351.9M280.9 352.2L279.0 351.9L280.0 353.5M294.1 355.2L291.4 351.6M293.1 352.6L291.4 351.6L291.8 353.5M304.2 355.2L304.2 351.6M305.0 353.4L304.2 351.6L303.4 353.4M314.3 355.2L317.0 351.6M316.6 353.5L317.0 351.6L315.3 352.6M324.8 354.9L329.4 351.9M328.4 353.5L329.4 351.9L327.5 352.2M336.2 354.9L340.9 351.9M339.8 353.5L340.9 351.9L338.9 352.2M347.7 354.9L352.3 351.9M351.3 353.5L352.3 351.9L350.4 352.2M359.1 354.9L363.8 351.9M362.7 353.5L363.8 351.9L361.8 352.2M249.3 366.0L244.6 362.8M246.5 363.1L244.6 362.8L245.6 364.5M260.7 366.0L256.1 362.8M258.0 363.1L256.1 362.8L257.1 364.5M272.2 366.0L267.5 362.8M269.4 363.1L267.5 362.8L268.5 364.5M283.6 366.0L279.0 362.8M280.9 363.1L279.0 362.8L280.0 364.5M294.2 366.4L291.3 362.4M293.0 363.4L291.3 362.4L291.7 364.3M304.2 366.4L304.2 362.4M305.0 364.2L304.2 362.4L303.4 364.2M314.2 366.4L317.1 362.4M316.7 364.3L317.1 362.4L315.4 363.4M324.8 366.0L329.4 362.8M328.4 364.5L329.4 362.8L327.5 363.1M336.2 366.0L340.9 362.8M339.9 364.5L340.9 362.8L339.0 363.1M347.7 366.0L352.3 362.8M351.3 364.5L352.3 362.8L350.4 363.1M359.1 366.0L363.8 362.8M362.8 364.5L363.8 362.8L361.9 363.1M249.3 377.2L244.6 373.6M246.5 374.1L244.6 373.6L245.6 375.4M260.7 377.2L256.1 373.6M258.0 374.1L256.1 373.6L257.0 375.4M272.2 377.2L267.5 373.6M269.4 374.1L267.5 373.6L268.5 375.4M283.6 377.2L279.0 373.6M280.9 374.1L279.0 373.6L279.9 375.4M294.2 377.6L291.3 373.2M293.0 374.2L291.3 373.2L291.6 375.1M304.2 377.6L304.2 373.2M305.0 375.0L304.2 373.2L303.4 375.0M314.2 377.6L317.1 373.2M316.8 375.1L317.1 373.2L315.4 374.2M324.8 377.2L329.4 373.6M328.5 375.4L329.4 373.6L327.5 374.1M336.2 377.2L340.9 373.6M339.9 375.4L340.9 373.6L339.0 374.1M347.7 377.2L352.3 373.6M351.4 375.4L352.3 373.6L350.4 374.1M359.1 377.2L363.8 373.6M362.8 375.4L363.8 373.6L361.9 374.1M249.3 388.3L244.6 384.5M246.5 385.0L244.6 384.5L245.5 386.3M260.7 388.3L256.1 384.5M258.0 385.0L256.1 384.5L257.0 386.3M272.2 388.3L267.5 384.5M269.4 385.0L267.5 384.5L268.4 386.3M283.6 388.3L279.0 384.5M280.9 385.0L279.0 384.5L279.9 386.3M294.2 388.9L291.3 383.9M292.9 385.1L291.3 383.9L291.5 385.9M304.2 388.9L304.2 383.9M305.0 385.7L304.2 383.9L303.4 385.7M314.2 388.9L317.1 383.9M316.9 385.9L317.1 383.9L315.5 385.1M324.8 388.3L329.4 384.5M328.5 386.3L329.4 384.5L327.5 385.0M336.2 388.3L340.9 384.5M340.0 386.3L340.9 384.5L339.0 385.0M347.7 388.3L352.3 384.5M351.4 386.3L352.3 384.5L350.4 385.0M359.1 388.3L363.8 384.5M362.9 386.3L363.8 384.5L361.9 385.0M249.2 399.4L244.7 395.4M246.5 396.0L244.7 395.4L245.5 397.2M260.7 399.4L256.1 395.4M258.0 396.0L256.1 395.4L256.9 397.2M272.1 399.4L267.6 395.4M269.4 396.0L267.6 395.4L268.4 397.2M283.6 399.4L279.0 395.4M280.9 396.0L279.0 395.4L279.8 397.2M294.3 400.1L291.2 394.7M292.8 395.9L291.2 394.7L291.4 396.7M304.2 400.1L304.2 394.7M305.0 396.5L304.2 394.7L303.4 396.5M314.1 400.1L317.2 394.7M317.0 396.7L317.2 394.7L315.6 395.9M324.8 399.4L329.4 395.4M328.6 397.2L329.4 395.4L327.5 396.0M336.3 399.4L340.8 395.4M340.0 397.2L340.8 395.4L339.0 396.0M347.7 399.4L352.3 395.4M351.5 397.2L352.3 395.4L350.4 396.0M359.2 399.4L363.7 395.4M362.9 397.2L363.7 395.4L361.9 396.0M249.2 410.5L244.7 406.3M246.5 406.9L244.7 406.3L245.4 408.1M260.7 410.5L256.1 406.3M258.0 406.9L256.1 406.3L256.9 408.1M272.1 410.5L267.6 406.3M269.4 406.9L267.6 406.3L268.3 408.1M283.6 410.5L279.0 406.3M280.9 406.9L279.0 406.3L279.8 408.1M294.2 411.2L291.3 405.6M292.8 406.9L291.3 405.6L291.4 407.6M304.2 411.3L304.2 405.5M305.0 407.3L304.2 405.5L303.4 407.3M314.2 411.2L317.1 405.6M317.0 407.6L317.1 405.6L315.6 406.9M324.8 410.5L329.4 406.3M328.6 408.1L329.4 406.3L327.5 406.9M336.3 410.5L340.8 406.3M340.1 408.1L340.8 406.3L339.0 406.9M347.7 410.5L352.3 406.3M351.5 408.1L352.3 406.3L350.4 406.9M359.2 410.5L363.7 406.3M363.0 408.1L363.7 406.3L361.9 406.9M249.2 421.7L244.7 417.1M246.5 417.8L244.7 417.1L245.4 419.0M260.7 421.7L256.1 417.1M258.0 417.8L256.1 417.1L256.8 419.0M272.1 421.7L267.6 417.1M269.4 417.8L267.6 417.1L268.3 419.0M283.6 421.7L279.0 417.1M280.9 417.8L279.0 417.1L279.7 419.0M294.2 422.3L291.3 416.5M292.8 417.8L291.3 416.5L291.4 418.5M304.2 422.6L304.2 416.2M305.0 418.0L304.2 416.2L303.4 418.0M314.2 422.3L317.1 416.5M317.0 418.5L317.1 416.5L315.6 417.8M324.8 421.7L329.4 417.1M328.7 419.0L329.4 417.1L327.5 417.8M336.3 421.7L340.8 417.1M340.1 419.0L340.8 417.1L339.0 417.8M347.7 421.7L352.3 417.1M351.6 419.0L352.3 417.1L350.4 417.8M359.2 421.7L363.7 417.1M363.0 419.0L363.7 417.1L361.9 417.8" stroke="#777" stroke-width="1.0" fill="none" opacity="0.8"/>
<path d="M525.3 304.5H403.6V426.1H525.3M528.9 304.3V426.2" fill="none" stroke="#222" stroke-width="1.3"/>
<path d="M408.4 310.7L405.7 307.3M407.4 308.2L405.7 307.3L406.2 309.2M419.9 310.7L417.1 307.3M418.9 308.2L417.1 307.3L417.6 309.2M431.0 310.7L428.9 307.3M430.5 308.4L428.9 307.3L429.2 309.2M441.7 310.7L441.1 307.3M442.2 308.9L441.1 307.3L440.6 309.2M452.9 310.7L452.9 307.3M453.7 309.1L452.9 307.3L452.1 309.1M464.3 310.7L464.3 307.3M465.1 309.1L464.3 307.3L463.5 309.1M475.8 310.7L475.8 307.3M476.6 309.1L475.8 307.3L474.9 309.1M486.9 310.7L487.5 307.3M488.0 309.2L487.5 307.3L486.4 308.9M497.6 310.7L499.7 307.3M499.4 309.2L499.7 307.3L498.1 308.4M508.7 310.7L511.5 307.3M511.0 309.2L511.5 307.3L509.7 308.2M520.2 310.7L522.9 307.3M522.4 309.2L522.9 307.3L521.2 308.2M408.5 321.9L405.6 318.1M407.3 319.1L405.6 318.1L406.1 320.0M420.0 321.9L417.0 318.1M418.8 319.1L417.0 318.1L417.5 320.0M431.0 321.9L428.9 318.1M430.5 319.3L428.9 318.1L429.1 320.1M441.7 321.9L441.1 318.1M442.2 319.8L441.1 318.1L440.6 320.0M452.9 321.9L452.9 318.1M453.7 319.9L452.9 318.1L452.1 319.9M464.3 321.9L464.3 318.1M465.1 319.9L464.3 318.1L463.5 319.9M475.8 321.9L475.8 318.1M476.6 319.9L475.8 318.1L474.9 319.9M486.9 321.9L487.5 318.1M488.0 320.0L487.5 318.1L486.4 319.8M497.6 321.9L499.7 318.1M499.5 320.1L499.7 318.1L498.1 319.3M508.6 321.9L511.6 318.1M511.1 320.0L511.6 318.1L509.8 319.1M520.1 321.9L523.0 318.1M522.5 320.0L523.0 318.1L521.3 319.1M408.6 333.0L405.5 329.0M407.2 329.9L405.5 329.0L406.0 330.9M420.0 333.0L417.0 329.0M418.7 329.9L417.0 329.0L417.4 330.9M431.1 333.0L428.8 329.0M430.4 330.2L428.8 329.0L429.0 330.9M441.7 333.0L441.1 329.0M442.1 330.6L441.1 329.0L440.6 330.9M452.9 333.0L452.9 329.0M453.7 330.8L452.9 329.0L452.1 330.8M464.3 333.0L464.3 329.0M465.1 330.8L464.3 329.0L463.5 330.8M475.8 333.0L475.8 329.0M476.6 330.8L475.8 329.0L474.9 330.8M486.9 333.0L487.5 329.0M488.0 330.9L487.5 329.0L486.5 330.6M497.5 333.0L499.8 329.0M499.6 330.9L499.8 329.0L498.2 330.2M508.6 333.0L511.6 329.0M511.2 330.9L511.6 329.0L509.9 329.9M520.0 333.0L523.1 329.0M522.6 330.9L523.1 329.0L521.4 329.9M408.6 344.2L405.5 339.8M407.2 340.8L405.5 339.8L405.9 341.8M420.1 344.2L416.9 339.8M418.6 340.8L416.9 339.8L417.3 341.8M431.1 344.2L428.8 339.8M430.3 341.0L428.8 339.8L428.9 341.8M441.8 344.2L441.0 339.8M442.1 341.5L441.0 339.8L440.5 341.7M452.9 344.2L452.9 339.8M453.7 341.6L452.9 339.8L452.1 341.6M464.3 344.2L464.3 339.8M465.1 341.6L464.3 339.8L463.5 341.6M475.8 344.2L475.8 339.8M476.6 341.6L475.8 339.8L474.9 341.6M486.8 344.2L487.6 339.8M488.1 341.7L487.6 339.8L486.5 341.5M497.5 344.2L499.8 339.8M499.7 341.8L499.8 339.8L498.3 341.0M508.5 344.2L511.7 339.8M511.3 341.8L511.7 339.8L510.0 340.8M520.0 344.2L523.1 339.8M522.7 341.8L523.1 339.8L521.4 340.8M408.7 355.3L405.4 350.7M407.1 351.7L405.4 350.7L405.8 352.7M420.1 355.3L416.9 350.7M418.6 351.7L416.9 350.7L417.3 352.7M431.2 355.4L428.7 350.6M430.3 351.9L428.7 350.6L428.8 352.6M441.8 355.4L441.0 350.6M442.1 352.3L441.0 350.6L440.5 352.5M452.9 355.4L452.9 350.6M453.7 352.4L452.9 350.6L452.1 352.4M464.3 355.4L464.3 350.6M465.1 352.4L464.3 350.6L463.5 352.4M475.8 355.4L475.8 350.6M476.6 352.4L475.8 350.6L474.9 352.4M486.8 355.4L487.6 350.6M488.1 352.5L487.6 350.6L486.5 352.3M497.4 355.4L499.9 350.6M499.8 352.6L499.9 350.6L498.3 351.9M508.5 355.3L511.7 350.7M511.3 352.7L511.7 350.7L510.0 351.7M519.9 355.3L523.2 350.7M522.8 352.7L523.2 350.7L521.5 351.7M408.7 366.4L405.4 361.6M407.1 362.6L405.4 361.6L405.8 363.5M420.1 366.4L416.9 361.6M418.5 362.6L416.9 361.6L417.2 363.5M431.2 366.5L428.7 361.5M430.2 362.7L428.7 361.5L428.8 363.4M441.8 366.5L441.0 361.5M442.1 363.1L441.0 361.5L440.5 363.4M452.9 366.5L452.9 361.5M453.7 363.3L452.9 361.5L452.1 363.3M464.3 366.5L464.3 361.5M465.1 363.3L464.3 361.5L463.5 363.3M475.8 366.5L475.8 361.5M476.6 363.3L475.8 361.5L474.9 363.3M486.8 366.5L487.6 361.5M488.1 363.4L487.6 361.5L486.5 363.1M497.4 366.5L499.9 361.5M499.8 363.4L499.9 361.5L498.4 362.7M508.5 366.4L511.7 361.6M511.4 363.5L511.7 361.6L510.1 362.6M519.9 366.4L523.2 361.6M522.8 363.5L523.2 361.6L521.5 362.6M408.7 377.5L405.4 372.5M407.0 373.5L405.4 372.5L405.7 374.4M420.2 377.5L416.8 372.5M418.5 373.5L416.8 372.5L417.2 374.4M431.3 377.7L428.6 372.3M430.1 373.6L428.6 372.3L428.7 374.3M441.8 377.7L441.0 372.3M442.1 373.9L441.0 372.3L440.5 374.2M452.9 377.7L452.9 372.3M453.7 374.1L452.9 372.3L452.1 374.1M464.3 377.7L464.3 372.3M465.1 374.1L464.3 372.3L463.5 374.1M475.8 377.7L475.8 372.3M476.6 374.1L475.8 372.3L474.9 374.1M486.8 377.7L487.6 372.3M488.1 374.2L487.6 372.3L486.5 373.9M497.3 377.7L500.0 372.3M499.9 374.3L500.0 372.3L498.5 373.6M508.4 377.5L511.8 372.5M511.4 374.4L511.8 372.5L510.1 373.5M519.9 377.5L523.2 372.5M522.9 374.4L523.2 372.5L521.6 373.5M408.8 388.6L405.3 383.4M407.0 384.4L405.3 383.4L405.6 385.3M420.2 388.6L416.8 383.4M418.4 384.4L416.8 383.4L417.1 385.3M431.3 388.8L428.6 383.2M430.1 384.4L428.6 383.2L428.6 385.1M441.8 388.9L441.0 383.1M442.0 384.8L441.0 383.1L440.4 385.0M452.9 388.9L452.9 383.1M453.7 384.9L452.9 383.1L452.1 384.9M464.3 388.9L464.3 383.1M465.1 384.9L464.3 383.1L463.5 384.9M475.8 388.9L475.8 383.1M476.6 384.9L475.8 383.1L474.9 384.9M486.8 388.9L487.6 383.1M488.2 385.0L487.6 383.1L486.6 384.8M497.3 388.8L500.0 383.2M500.0 385.1L500.0 383.2L498.5 384.4M508.4 388.6L511.8 383.4M511.5 385.3L511.8 383.4L510.2 384.4M519.8 388.6L523.3 383.4M523.0 385.3L523.3 383.4L521.6 384.4M408.8 399.8L405.3 394.2M406.9 395.3L405.3 394.2L405.6 396.2M420.2 399.8L416.8 394.2M418.4 395.3L416.8 394.2L417.0 396.2M431.3 400.0L428.6 394.0M430.1 395.3L428.6 394.0L428.6 396.0M441.8 400.1L441.0 393.9M442.0 395.6L441.0 393.9L440.4 395.8M452.9 400.1L452.9 393.9M453.7 395.7L452.9 393.9L452.1 395.7M464.3 400.1L464.3 393.9M465.1 395.7L464.3 393.9L463.5 395.7M475.8 400.1L475.8 393.9M476.6 395.7L475.8 393.9L474.9 395.7M486.8 400.1L487.6 393.9M488.2 395.8L487.6 393.9L486.6 395.6M497.3 400.0L500.0 394.0M500.0 396.0L500.0 394.0L498.5 395.3M508.4 399.8L511.8 394.2M511.6 396.2L511.8 394.2L510.2 395.3M519.8 399.8L523.3 394.2M523.0 396.2L523.3 394.2L521.7 395.3M408.8 410.9L405.3 405.1M406.9 406.2L405.3 405.1L405.5 407.1M420.3 410.9L416.7 405.1M418.4 406.2L416.7 405.1L417.0 407.1M431.4 411.1L428.5 404.9M430.0 406.2L428.5 404.9L428.6 406.9M441.9 411.3L440.9 404.7M442.0 406.4L440.9 404.7L440.4 406.6M452.9 411.3L452.9 404.7M453.7 406.5L452.9 404.7L452.1 406.5M464.3 411.3L464.3 404.7M465.1 406.5L464.3 404.7L463.5 406.5M475.8 411.3L475.8 404.7M476.6 406.5L475.8 404.7L474.9 406.5M486.7 411.3L487.7 404.7M488.2 406.6L487.7 404.7L486.6 406.4M497.2 411.1L500.1 404.9M500.0 406.9L500.1 404.9L498.6 406.2M508.3 410.9L511.9 405.1M511.6 407.1L511.9 405.1L510.2 406.2M519.8 410.9L523.3 405.1M523.1 407.1L523.3 405.1L521.7 406.2M408.9 422.0L405.2 416.0M406.9 417.1L405.2 416.0L405.5 418.0M420.3 422.0L416.7 416.0M418.3 417.1L416.7 416.0L416.9 418.0M431.4 422.2L428.5 415.8M430.0 417.1L428.5 415.8L428.5 417.8M441.9 422.5L440.9 415.5M442.0 417.2L440.9 415.5L440.4 417.4M452.9 422.5L452.9 415.5M453.7 417.3L452.9 415.5L452.1 417.3M464.3 422.5L464.3 415.5M465.1 417.3L464.3 415.5L463.5 417.3M475.8 422.5L475.8 415.5M476.6 417.3L475.8 415.5L474.9 417.3M486.7 422.5L487.7 415.5M488.2 417.4L487.7 415.5L486.6 417.2M497.2 422.2L500.1 415.8M500.1 417.8L500.1 415.8L498.6 417.1M508.3 422.0L511.9 416.0M511.7 418.0L511.9 416.0L510.3 417.1M519.7 422.0L523.4 416.0M523.1 418.0L523.4 416.0L521.7 417.1" stroke="#777" stroke-width="1.0" fill="none" opacity="0.8"/>
<path d="M304.3 172 L305.2 190 C308 195 312 200 314 207 C317 215 318 222 315 229 C311 234 298 235 294 229 C290 222 291 215 294 207 C297 200 301 195 303.6 190 Z" fill="#47035f"/>
<path d="M304.7 190.1Q292.0 205.4 290.9 231.9M305.3 189.4Q318.1 210.0 319.3 224.7M305.1 189.6Q311.8 209.4 312.4 236.0M304.2 187.2Q288.4 210.2 286.9 223.5M305.2 189.0Q317.1 209.8 318.2 234.1M303.9 188.1Q321.3 210.8 322.7 217.8M304.3 188.8Q311.7 208.5 312.3 235.4M305.1 192.0Q320.3 209.0 321.7 226.0M304.6 190.6Q320.5 206.3 321.9 228.6M305.1 191.9Q309.3 205.5 309.8 233.7M304.9 191.4Q299.1 205.3 298.6 238.1M305.1 191.9Q288.1 208.0 286.6 220.3M303.8 188.0Q293.6 207.4 292.7 237.0M304.2 191.8Q287.6 210.4 286.2 231.2M304.7 189.8Q303.0 208.7 302.9 240.6M304.1 188.5Q305.7 210.9 305.8 240.1M304.6 187.1Q307.1 208.7 307.3 236.9M304.8 188.8Q288.0 209.2 286.5 222.3M305.2 188.3Q286.0 207.7 284.4 221.5M304.3 190.0Q295.0 206.8 294.1 235.2M304.9 188.6Q316.0 206.3 317.0 230.4M304.8 187.5Q291.0 206.9 289.8 232.4M304.0 188.7Q318.5 208.9 319.7 229.6M304.5 188.0Q301.6 209.8 301.4 236.9M304.7 191.0Q289.3 207.1 287.9 232.2M304.3 189.1Q294.7 207.5 293.8 233.9M305.2 191.4Q319.1 210.9 320.4 218.0M304.9 191.2Q321.6 209.0 323.1 217.8M303.8 189.9Q293.3 206.7 292.3 233.5M305.2 191.5Q288.6 210.4 287.2 223.0M304.2 190.3Q287.8 208.1 286.4 217.1M304.1 191.3Q320.6 207.9 322.0 219.4M305.0 187.9Q296.2 209.8 295.4 237.9M304.7 191.3Q319.0 205.3 320.2 224.6M304.5 190.9Q293.0 205.0 292.0 233.9M305.3 191.3Q287.2 205.5 285.7 223.5M304.7 189.9Q294.6 207.2 293.8 235.3M304.8 188.9Q294.8 205.5 293.9 237.3M304.3 191.0Q298.4 208.7 297.9 240.5M304.4 190.5Q298.1 207.8 297.5 239.9M304.4 189.1Q308.2 210.3 308.5 234.6M304.1 189.3Q299.3 205.7 298.8 240.6M304.8 190.7Q314.8 208.4 315.7 236.5M304.9 187.2Q309.2 205.6 309.6 233.9M305.0 187.6Q318.6 210.1 319.9 220.7M305.0 187.2Q320.0 209.6 321.3 227.4M305.2 187.3Q314.9 206.9 315.8 234.6M304.1 190.1Q317.9 209.5 319.0 224.8M304.4 187.4Q297.5 208.0 296.9 237.1M304.8 190.8Q300.9 209.0 300.5 237.2M303.9 187.5Q304.8 209.5 304.8 242.0M304.0 188.3Q306.3 206.2 306.5 239.9M305.2 188.5Q294.3 209.2 293.4 237.9M304.0 187.1Q319.4 207.9 320.7 224.2M304.9 187.7Q289.1 210.9 287.7 228.0M305.0 189.8Q310.9 207.9 311.5 238.7M305.2 189.3Q318.9 206.4 320.2 227.5M305.1 188.2Q316.6 206.1 317.6 236.0M305.1 188.3Q290.6 210.2 289.4 232.8M303.8 191.2Q301.4 206.8 301.1 237.0M298 195 C287 203 280 215 279.8 228.7 C280 238 286 245 292.6 249.6M294 198 C287 206 283 216 283.5 226 C283.7 230 284 234 285 236M326.4 233.5 C322 239 318 244 315.1 246.4M316 197 C322 205 325 214 324 224" stroke="#47035f" stroke-width="1.1" fill="none" opacity="1.0" stroke-linecap="round"/>
<path d="M288.9 231.9a2.0 2.0 0 1 0 4.0 0a2.0 2.0 0 1 0 -4.0 0M317.3 224.7a2.0 2.0 0 1 0 4.0 0a2.0 2.0 0 1 0 -4.0 0M284.9 223.5a2.0 2.0 0 1 0 4.0 0a2.0 2.0 0 1 0 -4.0 0M316.2 234.1a2.0 2.0 0 1 0 4.0 0a2.0 2.0 0 1 0 -4.0 0M320.7 217.8a2.0 2.0 0 1 0 4.0 0a2.0 2.0 0 1 0 -4.0 0M319.7 226.0a2.0 2.0 0 1 0 4.0 0a2.0 2.0 0 1 0 -4.0 0M284.2 231.2a2.0 2.0 0 1 0 4.0 0a2.0 2.0 0 1 0 -4.0 0M292.1 235.2a2.0 2.0 0 1 0 4.0 0a2.0 2.0 0 1 0 -4.0 0M287.8 232.4a2.0 2.0 0 1 0 4.0 0a2.0 2.0 0 1 0 -4.0 0M285.9 232.2a2.0 2.0 0 1 0 4.0 0a2.0 2.0 0 1 0 -4.0 0M291.8 233.9a2.0 2.0 0 1 0 4.0 0a2.0 2.0 0 1 0 -4.0 0M318.4 218.0a2.0 2.0 0 1 0 4.0 0a2.0 2.0 0 1 0 -4.0 0M284.4 217.1a2.0 2.0 0 1 0 4.0 0a2.0 2.0 0 1 0 -4.0 0M318.2 224.6a2.0 2.0 0 1 0 4.0 0a2.0 2.0 0 1 0 -4.0 0M290.0 233.9a2.0 2.0 0 1 0 4.0 0a2.0 2.0 0 1 0 -4.0 0M291.8 235.3a2.0 2.0 0 1 0 4.0 0a2.0 2.0 0 1 0 -4.0 0M291.9 237.3a2.0 2.0 0 1 0 4.0 0a2.0 2.0 0 1 0 -4.0 0M295.9 240.5a2.0 2.0 0 1 0 4.0 0a2.0 2.0 0 1 0 -4.0 0M295.5 239.9a2.0 2.0 0 1 0 4.0 0a2.0 2.0 0 1 0 -4.0 0M313.7 236.5a2.0 2.0 0 1 0 4.0 0a2.0 2.0 0 1 0 -4.0 0M307.6 233.9a2.0 2.0 0 1 0 4.0 0a2.0 2.0 0 1 0 -4.0 0M317.0 224.8a2.0 2.0 0 1 0 4.0 0a2.0 2.0 0 1 0 -4.0 0M291.4 237.9a2.0 2.0 0 1 0 4.0 0a2.0 2.0 0 1 0 -4.0 0M318.7 224.2a2.0 2.0 0 1 0 4.0 0a2.0 2.0 0 1 0 -4.0 0M285.7 228.0a2.0 2.0 0 1 0 4.0 0a2.0 2.0 0 1 0 -4.0 0M318.2 227.5a2.0 2.0 0 1 0 4.0 0a2.0 2.0 0 1 0 -4.0 0M315.6 236.0a2.0 2.0 0 1 0 4.0 0a2.0 2.0 0 1 0 -4.0 0M287.4 232.8a2.0 2.0 0 1 0 4.0 0a2.0 2.0 0 1 0 -4.0 0M299.1 237.0a2.0 2.0 0 1 0 4.0 0a2.0 2.0 0 1 0 -4.0 0M290.6 249.6a2.0 2.0 0 1 0 4.0 0a2.0 2.0 0 1 0 -4.0 0M283.0 236.0a2.0 2.0 0 1 0 4.0 0a2.0 2.0 0 1 0 -4.0 0M313.1 246.4a2.0 2.0 0 1 0 4.0 0a2.0 2.0 0 1 0 -4.0 0M322.0 224.0a2.0 2.0 0 1 0 4.0 0a2.0 2.0 0 1 0 -4.0 0M281.0 214.0a2.0 2.0 0 1 0 4.0 0a2.0 2.0 0 1 0 -4.0 0M281.5 221.0a2.0 2.0 0 1 0 4.0 0a2.0 2.0 0 1 0 -4.0 0" fill="#47035f"/>
<path d="M465.9 181.1Q463.6 200.5 462.1 250.1M464.8 179.6Q466.6 197.5 467.0 248.1M467.4 182.1Q473.2 200.7 477.5 245.6M465.1 179.2Q449.4 197.2 439.2 218.6M466.4 181.0Q463.6 201.0 462.1 245.6M467.0 182.5Q457.3 198.9 452.0 245.0M465.7 183.4Q456.1 199.3 450.1 243.0M467.2 180.8Q477.8 202.9 485.0 229.6M465.3 178.1Q450.3 199.0 440.6 230.2M464.8 177.9Q475.7 201.8 481.7 234.6M466.7 178.4Q468.5 200.9 470.1 241.0M467.4 183.1Q461.7 198.8 459.1 242.3M466.4 178.2Q453.1 202.9 445.2 239.7M465.4 178.0Q455.9 197.5 449.7 236.6M465.9 184.2Q454.8 199.9 448.0 236.2M467.2 183.2Q478.6 198.5 486.2 227.9M467.4 183.7Q476.5 200.6 483.0 234.9M465.2 182.4Q449.6 198.5 439.5 234.1M466.7 178.0Q469.8 198.4 472.1 239.8M467.3 178.9Q479.0 197.1 487.0 230.1M465.6 181.5Q462.3 197.8 460.1 241.9M466.6 181.6Q480.6 197.8 489.5 232.1M467.4 177.6Q450.1 200.8 440.4 225.8M464.7 181.3Q475.1 201.4 480.6 244.1M467.2 180.0Q476.0 201.1 482.2 241.6M467.1 181.5Q479.1 200.7 487.1 234.7M466.4 184.5Q469.8 202.3 472.1 239.1M465.8 183.4Q461.5 197.5 458.8 244.9M465.2 182.4Q449.7 200.0 439.7 224.2M465.4 182.2Q479.5 198.2 487.7 222.9M467.2 179.8Q480.1 201.0 488.7 228.6M467.1 180.2Q463.2 200.5 461.4 249.7M467.0 182.5Q451.2 202.7 442.1 234.8M465.1 180.4Q452.0 200.8 443.5 230.7M465.9 178.0Q458.9 197.2 454.5 246.8M465.4 183.0Q450.0 197.1 440.2 225.9M465.2 178.5Q462.7 197.3 460.7 249.0M466.9 184.2Q463.4 201.1 461.8 247.2M465.9 182.5Q464.0 198.1 462.7 239.8M466.3 182.8Q459.9 199.4 456.2 243.1M466.7 178.4Q479.0 199.7 487.0 234.0M467.1 183.1Q479.6 202.7 487.9 229.7M467.0 182.0Q471.8 201.3 475.4 244.4M466.1 183.0Q480.6 198.9 489.6 235.0M465.8 181.4Q478.6 201.6 486.4 227.7M466.9 178.7Q450.1 199.0 440.3 219.5M466.7 183.4Q450.7 201.1 441.3 231.5M465.2 181.2Q466.3 198.7 466.4 240.5M466.2 179.7Q471.9 199.3 475.5 246.0M467.4 181.2Q479.2 200.4 487.3 233.5M464.6 184.3Q467.5 200.1 468.5 245.8M466.6 178.0Q477.8 200.2 485.0 235.1M465.9 178.4Q481.0 199.6 490.2 223.1M465.1 181.8Q479.7 202.6 488.1 227.6M465.2 182.3Q476.3 198.9 482.6 233.1M464.9 181.1Q470.4 198.5 473.0 245.3M465.7 181.2Q467.1 198.0 467.8 243.4M467.1 181.8Q471.8 202.1 475.4 242.8M465.4 179.7Q476.4 202.5 482.7 242.6M465.2 182.6Q481.3 198.6 490.7 218.6M464.9 180.3Q478.2 201.1 485.7 236.8M467.4 178.3Q453.3 200.0 445.6 239.7M464.7 178.2Q466.3 197.2 466.4 241.6M465.1 178.9Q466.6 202.0 467.0 241.0" stroke="#47035f" stroke-width="1.1" fill="none" opacity="1.0" stroke-linecap="round"/>
<path d="M466 195 C470 203 476 212 478 222 C479 230 474 235 466 236 C458 236 453 230 454 222 C456 212 462 203 466 195Z" fill="#47035f"/>
<path d="M451.6 183.7 Q439 196 432.8 212.5 Q431 218 430.8 222.3M452.5 189 Q442 202 437 220 Q435.5 225 435.2 227.4M454 187 Q445 197 440 212 Q438 220 438.5 226M455.5 193 Q447 205 443 220 Q442 226 442 231M494 205 Q498 220 495.5 238M496.6 207.8 Q500 222 498.2 246.4M492 212 Q497 228 496.6 240M472.4 174.4 Q478 186 483.9 197M488 232 Q486 244 478.5 254M466 225 Q464 242 463.5 253M452 236 Q451 242 449 245" stroke="#47035f" stroke-width="1.1" fill="none" opacity="1.0" stroke-linecap="round"/>
<path d="M460.1 250.1a2.0 2.0 0 1 0 4.0 0a2.0 2.0 0 1 0 -4.0 0M475.5 245.6a2.0 2.0 0 1 0 4.0 0a2.0 2.0 0 1 0 -4.0 0M450.0 245.0a2.0 2.0 0 1 0 4.0 0a2.0 2.0 0 1 0 -4.0 0M483.0 229.6a2.0 2.0 0 1 0 4.0 0a2.0 2.0 0 1 0 -4.0 0M479.7 234.6a2.0 2.0 0 1 0 4.0 0a2.0 2.0 0 1 0 -4.0 0M468.1 241.0a2.0 2.0 0 1 0 4.0 0a2.0 2.0 0 1 0 -4.0 0M443.2 239.7a2.0 2.0 0 1 0 4.0 0a2.0 2.0 0 1 0 -4.0 0M484.2 227.9a2.0 2.0 0 1 0 4.0 0a2.0 2.0 0 1 0 -4.0 0M481.0 234.9a2.0 2.0 0 1 0 4.0 0a2.0 2.0 0 1 0 -4.0 0M485.0 230.1a2.0 2.0 0 1 0 4.0 0a2.0 2.0 0 1 0 -4.0 0M458.1 241.9a2.0 2.0 0 1 0 4.0 0a2.0 2.0 0 1 0 -4.0 0M487.5 232.1a2.0 2.0 0 1 0 4.0 0a2.0 2.0 0 1 0 -4.0 0M485.1 234.7a2.0 2.0 0 1 0 4.0 0a2.0 2.0 0 1 0 -4.0 0M485.7 222.9a2.0 2.0 0 1 0 4.0 0a2.0 2.0 0 1 0 -4.0 0M486.7 228.6a2.0 2.0 0 1 0 4.0 0a2.0 2.0 0 1 0 -4.0 0M459.4 249.7a2.0 2.0 0 1 0 4.0 0a2.0 2.0 0 1 0 -4.0 0M440.1 234.8a2.0 2.0 0 1 0 4.0 0a2.0 2.0 0 1 0 -4.0 0M438.2 225.9a2.0 2.0 0 1 0 4.0 0a2.0 2.0 0 1 0 -4.0 0M459.8 247.2a2.0 2.0 0 1 0 4.0 0a2.0 2.0 0 1 0 -4.0 0M460.7 239.8a2.0 2.0 0 1 0 4.0 0a2.0 2.0 0 1 0 -4.0 0M473.4 244.4a2.0 2.0 0 1 0 4.0 0a2.0 2.0 0 1 0 -4.0 0M485.3 233.5a2.0 2.0 0 1 0 4.0 0a2.0 2.0 0 1 0 -4.0 0M466.5 245.8a2.0 2.0 0 1 0 4.0 0a2.0 2.0 0 1 0 -4.0 0M483.0 235.1a2.0 2.0 0 1 0 4.0 0a2.0 2.0 0 1 0 -4.0 0M486.1 227.6a2.0 2.0 0 1 0 4.0 0a2.0 2.0 0 1 0 -4.0 0M480.6 233.1a2.0 2.0 0 1 0 4.0 0a2.0 2.0 0 1 0 -4.0 0M471.0 245.3a2.0 2.0 0 1 0 4.0 0a2.0 2.0 0 1 0 -4.0 0M465.8 243.4a2.0 2.0 0 1 0 4.0 0a2.0 2.0 0 1 0 -4.0 0M473.4 242.8a2.0 2.0 0 1 0 4.0 0a2.0 2.0 0 1 0 -4.0 0M480.7 242.6a2.0 2.0 0 1 0 4.0 0a2.0 2.0 0 1 0 -4.0 0M488.7 218.6a2.0 2.0 0 1 0 4.0 0a2.0 2.0 0 1 0 -4.0 0M483.7 236.8a2.0 2.0 0 1 0 4.0 0a2.0 2.0 0 1 0 -4.0 0M428.8 222.3a2.0 2.0 0 1 0 4.0 0a2.0 2.0 0 1 0 -4.0 0M433.2 227.4a2.0 2.0 0 1 0 4.0 0a2.0 2.0 0 1 0 -4.0 0M496.2 246.4a2.0 2.0 0 1 0 4.0 0a2.0 2.0 0 1 0 -4.0 0M494.6 240.0a2.0 2.0 0 1 0 4.0 0a2.0 2.0 0 1 0 -4.0 0M461.5 253.0a2.0 2.0 0 1 0 4.0 0a2.0 2.0 0 1 0 -4.0 0M476.5 254.0a2.0 2.0 0 1 0 4.0 0a2.0 2.0 0 1 0 -4.0 0M481.9 197.0a2.0 2.0 0 1 0 4.0 0a2.0 2.0 0 1 0 -4.0 0M447.0 245.0a2.0 2.0 0 1 0 4.0 0a2.0 2.0 0 1 0 -4.0 0M458.7 248.0a2.0 2.0 0 1 0 4.0 0a2.0 2.0 0 1 0 -4.0 0M466.0 250.0a2.0 2.0 0 1 0 4.0 0a2.0 2.0 0 1 0 -4.0 0M480.0 242.0a2.0 2.0 0 1 0 4.0 0a2.0 2.0 0 1 0 -4.0 0M485.0 237.0a2.0 2.0 0 1 0 4.0 0a2.0 2.0 0 1 0 -4.0 0M452.0 247.0a2.0 2.0 0 1 0 4.0 0a2.0 2.0 0 1 0 -4.0 0" fill="#47035f"/>
<path d="M294 352 L303 346 L313 347 L316 368 L309 380 L299 379 Z" fill="#47035f"/>
<path d="M267.2 337.3Q288.3 351.3 303.9 371.1M276.6 334.2Q295.8 344.9 303.3 365.6M259.4 354.9Q280.9 366.2 300.7 380.4M265.8 335.5Q287.4 348.2 301.7 368.7M260.1 344.2Q281.7 359.7 299.8 379.1M274.5 333.1Q293.4 345.0 301.8 365.7M260.3 355.5Q280.9 368.9 300.3 383.9M268.3 336.0Q289.3 351.6 303.4 373.6M260.7 341.0Q281.7 359.2 299.3 380.7M276.8 332.9Q295.7 345.4 303.7 366.6M272.7 332.7Q292.1 344.4 302.0 364.7M261.0 342.9Q281.8 358.4 300.0 376.8M269.7 334.4Q290.8 350.0 304.3 372.5M266.5 337.0Q286.3 353.1 300.5 374.2M272.5 334.2Q292.6 345.5 304.3 365.4M259.8 348.9Q282.3 363.9 301.8 382.6M263.2 339.2Q284.6 354.0 301.2 373.8M277.1 333.2Q296.0 343.4 302.0 364.0M261.1 343.0Q283.2 358.0 302.1 376.9M259.0 344.9Q281.2 360.1 300.1 379.2M260.0 354.9Q280.5 368.4 299.2 384.2M260.6 343.2Q282.8 357.5 301.0 376.8M278.2 333.1Q297.3 343.7 302.6 364.8M269.3 335.7Q290.4 350.1 303.6 372.1M267.3 336.9Q287.3 349.7 300.8 369.1M259.1 346.7Q280.1 362.7 299.5 380.7M259.1 342.6Q281.4 359.0 300.1 379.4M259.4 344.3Q280.4 360.7 299.4 379.3M259.8 342.3Q282.3 357.8 300.8 377.8M272.5 334.5Q292.3 345.2 302.9 365.1M277.7 333.4Q296.7 343.2 305.3 362.9M265.8 337.0Q286.9 350.1 302.3 369.5M276.9 334.2Q296.8 342.0 304.4 362.0M261.1 342.2Q282.5 357.0 300.6 375.6M261.6 341.0Q282.8 355.1 300.1 373.7M271.0 333.3Q292.4 347.0 304.8 369.2M267.6 336.7Q288.9 350.9 303.3 372.1M259.4 343.8Q281.6 360.1 301.6 379.1M263.0 341.0Q283.7 356.0 299.9 375.8M269.6 334.8Q290.3 346.7 302.8 367.2M260.0 342.8Q282.3 357.9 302.0 376.2M274.6 333.3Q294.1 344.1 303.7 364.2M271.6 333.1Q292.1 345.7 304.7 366.3M278.4 333.6Q297.9 344.0 304.8 365.0M268.7 334.3Q289.1 347.4 301.8 367.9M265.8 335.6Q286.6 349.6 300.7 370.4M273.7 333.3Q294.4 345.0 303.7 366.9M260.1 352.7Q280.7 367.2 299.5 383.9M258.8 344.1Q281.0 358.6 301.0 376.1M269.6 334.8Q289.2 348.5 301.4 369.1M265.3 338.0Q286.1 353.0 301.7 373.4M259.0 354.7Q279.8 365.9 298.5 380.5M334.2 340.6Q319.5 341.5 309.9 352.8M352.9 338.3Q330.3 350.0 311.3 366.9M345.5 339.0Q325.6 346.1 309.2 359.4M331.5 342.0Q317.6 343.4 310.9 355.6M350.0 336.7Q327.5 349.4 309.4 368.1M352.2 341.7Q329.3 357.2 308.0 374.8M354.3 338.6Q331.0 352.3 309.9 369.4M353.2 341.6Q329.5 355.7 307.9 372.7M354.6 336.7Q330.3 350.1 309.7 368.7M351.3 345.9Q329.3 357.1 309.9 372.3M351.2 348.1Q328.9 364.2 308.2 382.5M350.2 348.4Q329.6 361.4 310.2 376.2M352.8 336.5Q329.8 350.1 309.1 367.1M352.0 344.8Q329.0 358.8 307.3 374.6M330.1 342.7Q316.9 341.4 308.9 352.1M353.8 338.4Q330.1 348.9 309.6 364.8M350.9 345.8Q330.0 359.5 310.2 374.8M351.7 342.6Q328.8 354.9 308.3 371.0M351.8 344.2Q328.7 358.8 308.2 376.9M331.5 342.1Q318.2 341.1 310.5 352.0M339.6 338.9Q323.4 341.2 310.5 351.5M353.0 341.6Q330.6 358.0 309.8 376.4M351.1 347.3Q329.6 358.7 309.6 372.6M352.2 339.8Q330.3 350.9 311.0 366.0M340.0 340.4Q322.6 341.6 309.5 353.0M352.1 337.9Q329.8 348.5 310.8 364.3M335.1 339.1Q319.7 339.8 308.8 350.7M353.1 336.7Q329.6 351.0 309.9 370.2M352.8 340.0Q330.9 351.6 311.6 367.1M334.4 339.4Q318.4 342.1 309.4 355.5M335.8 340.4Q321.2 341.7 311.3 352.5M349.0 337.1Q327.6 347.2 309.7 362.7M350.8 337.3Q329.6 346.7 312.2 362.0M348.4 337.7Q328.1 347.0 311.5 361.7M350.7 347.8Q329.0 360.0 309.6 375.6M338.9 340.0Q323.2 343.6 312.8 356.1M339.0 338.8Q322.9 341.4 312.6 354.0M352.7 337.0Q329.3 352.2 310.2 372.5M352.8 338.0Q330.0 350.1 310.9 367.5M352.5 340.8Q329.2 352.4 308.7 368.5M350.8 349.1Q329.6 361.5 309.7 375.9M330.4 341.0Q319.1 339.9 312.5 349.1M346.8 337.5Q326.4 348.0 310.8 365.1M350.6 349.1Q328.5 361.9 308.1 377.2M352.8 344.2Q329.4 357.4 307.5 373.0M351.9 344.9Q329.7 358.7 310.0 375.8M330.7 342.2Q318.4 339.0 308.9 347.4M353.4 338.4Q329.5 350.1 308.5 366.3M305.1 337.1L304.6 373.5M307.2 342.2L309.0 368.6M308.7 338.8L307.9 368.9M307.1 333.7L308.1 375.3M306.6 332.8L306.6 373.6M308.8 336.8L308.0 370.7M309.2 336.0L307.4 371.4M305.8 338.0L304.1 370.2M305.0 335.4L307.0 372.3M296.8 354.9Q300.5 363.8 299.3 373.3M286.1 352.3Q295.1 359.7 303.1 368.2M298.8 346.1Q302.7 357.3 305.2 368.8M313.3 347.1Q309.7 358.5 304.6 369.3M312.7 351.0Q310.0 360.4 305.1 368.8M307.8 347.0Q309.0 364.3 306.3 381.5M303.8 340.6Q302.3 360.2 298.3 379.5M310.5 353.2Q313.6 363.4 310.8 373.7M307.2 354.3Q304.8 367.3 300.1 379.7M313.2 355.9Q307.8 365.6 301.0 374.3M299.2 344.6Q303.7 357.1 307.3 369.9M298.8 341.2Q303.7 361.0 303.3 381.5M291.5 340.3Q302.2 360.6 309.6 382.4M289.8 343.8Q300.4 362.9 310.9 382.1M291.2 346.9Q297.5 362.7 301.7 379.3M307.7 342.4Q308.6 362.7 305.3 382.6M288.5 341.8Q298.7 357.1 307.0 373.6M299.4 349.3Q306.9 359.6 311.5 371.6M293.4 348.7Q302.0 358.5 308.2 370.0M305.8 340.1Q308.8 357.1 308.8 374.3M303.1 352.7Q301.1 364.1 298.8 375.5M296.8 345.5Q298.9 358.9 298.3 372.5M329 333 Q317 338 311 346M353.7 355.7 Q336 370 316.2 385.7M345 362 Q331 373 318 383M300 372 L297.5 382.7M305 370 L303.5 381.2" stroke="#47035f" stroke-width="1.1" fill="none" opacity="1.0" stroke-linecap="round"/>
<path d="M307.2 359.4a2.0 2.0 0 1 0 4.0 0a2.0 2.0 0 1 0 -4.0 0M305.9 372.7a2.0 2.0 0 1 0 4.0 0a2.0 2.0 0 1 0 -4.0 0M307.9 372.3a2.0 2.0 0 1 0 4.0 0a2.0 2.0 0 1 0 -4.0 0M308.2 376.2a2.0 2.0 0 1 0 4.0 0a2.0 2.0 0 1 0 -4.0 0M308.2 374.8a2.0 2.0 0 1 0 4.0 0a2.0 2.0 0 1 0 -4.0 0M306.3 371.0a2.0 2.0 0 1 0 4.0 0a2.0 2.0 0 1 0 -4.0 0M307.8 376.4a2.0 2.0 0 1 0 4.0 0a2.0 2.0 0 1 0 -4.0 0M309.3 352.5a2.0 2.0 0 1 0 4.0 0a2.0 2.0 0 1 0 -4.0 0M309.5 361.7a2.0 2.0 0 1 0 4.0 0a2.0 2.0 0 1 0 -4.0 0M305.5 373.0a2.0 2.0 0 1 0 4.0 0a2.0 2.0 0 1 0 -4.0 0M295.5 382.7a2.0 2.0 0 1 0 4.0 0a2.0 2.0 0 1 0 -4.0 0M301.5 381.2a2.0 2.0 0 1 0 4.0 0a2.0 2.0 0 1 0 -4.0 0M305.2 380.5a2.0 2.0 0 1 0 4.0 0a2.0 2.0 0 1 0 -4.0 0M312.0 375.2a2.0 2.0 0 1 0 4.0 0a2.0 2.0 0 1 0 -4.0 0M314.2 385.7a2.0 2.0 0 1 0 4.0 0a2.0 2.0 0 1 0 -4.0 0M289.0 376.5a2.0 2.0 0 1 0 4.0 0a2.0 2.0 0 1 0 -4.0 0M292.0 381.0a2.0 2.0 0 1 0 4.0 0a2.0 2.0 0 1 0 -4.0 0" fill="#47035f"/>
<path d="M424.3 342.8Q439.4 356.3 443.0 376.3M425.6 341.0Q442.0 355.6 448.5 376.6M422.1 347.8Q436.3 359.3 443.1 376.3M421.8 350.5Q434.0 358.2 440.1 371.2M424.5 345.9Q438.5 356.3 445.5 372.3M427.3 352.3Q436.9 362.1 439.8 375.5M427.4 351.8Q438.4 359.6 439.8 373.0M424.4 342.9Q439.4 357.4 445.0 377.4M431.2 353.0Q439.2 363.0 441.4 375.5M430.3 345.4Q443.9 359.1 449.6 377.4M423.9 343.8Q439.4 356.7 447.2 375.3M422.7 348.4Q435.6 358.9 437.5 375.3M425.4 341.4Q440.7 358.8 448.0 380.8M433.8 339.1Q445.0 359.2 449.2 381.9M431.5 335.2Q447.0 357.0 454.5 382.7M424.2 341.1Q440.3 354.9 448.6 374.3M432.5 344.0Q445.5 359.4 452.7 378.3M430.8 343.9Q441.8 357.4 444.0 374.8M423.2 345.3Q436.7 360.1 445.0 378.4M427.4 337.8Q445.7 354.0 454.8 376.6M430.5 348.9Q439.9 361.0 443.4 375.9M425.2 344.6Q441.1 356.9 446.0 376.4M425.8 342.9Q440.3 356.3 445.4 375.3M421.8 350.3Q433.1 360.4 437.1 375.1M423.2 351.6Q435.3 361.2 442.0 375.1M426.7 346.2Q439.8 359.6 445.1 377.5M424.8 343.7Q438.9 356.5 444.4 374.8M432.7 342.0Q443.5 358.5 444.1 378.2M421.5 349.7Q437.2 358.2 442.7 375.1M432.4 340.0Q446.5 357.5 452.8 379.1M459.8 319.8Q460.0 348.9 459.7 378.0M460.9 318.5Q459.9 347.4 460.9 376.2M454.1 329.2Q457.1 351.4 459.4 373.8M461.1 321.7Q462.8 352.6 463.2 383.5M463.6 319.3Q461.7 349.2 459.8 379.2M457.7 326.7Q459.6 350.0 460.2 373.3M463.4 316.9Q460.2 350.4 459.7 384.0M453.4 324.9Q457.2 354.9 460.1 384.9M473.0 329.5Q468.5 355.2 464.8 381.0M457.7 323.2Q459.0 351.6 458.1 380.0M449.3 333.6Q452.4 355.8 453.4 378.2M473.5 332.0Q469.5 352.9 465.8 373.9M455.3 325.0Q458.2 350.7 460.5 376.5M474.1 326.7Q470.3 354.5 465.6 382.1M452.6 326.6Q454.5 355.2 458.0 383.7M467.5 323.7Q468.3 354.3 466.6 385.0M462.4 316.1Q463.1 346.6 464.0 377.2M475.0 331.9Q471.5 358.1 470.4 384.5M473.0 331.6Q471.5 353.0 469.8 374.4M463.6 321.9Q463.2 348.1 465.6 374.3M464.7 319.2Q463.8 347.4 465.2 375.7M450.0 330.6Q455.5 354.0 458.3 377.9M453.7 325.0Q456.7 349.8 458.7 374.6M464.7 324.3Q463.8 354.2 464.9 384.0M474.9 330.5Q469.8 354.2 466.5 378.3M466.2 319.7Q465.7 349.3 466.7 378.8M474.6 329.8Q468.4 351.9 464.8 374.6M457.4 327.1Q457.7 349.7 458.2 372.2M457.4 322.2Q459.0 351.2 458.0 380.3M466.2 321.6Q464.9 350.4 466.4 379.2M489.4 338.4Q480.1 355.6 477.4 374.8M501.9 344.6Q487.2 359.6 476.1 377.4M499.9 341.0Q485.0 357.0 475.6 376.9M498.6 350.0Q483.3 358.6 472.1 372.0M500.4 340.1Q485.1 355.6 477.8 376.0M491.7 338.5Q479.7 352.8 478.5 371.5M504.1 343.3Q486.4 352.3 473.2 367.2M500.5 351.1Q488.3 358.3 478.8 368.9M485.0 341.3Q474.8 356.1 471.0 373.7M497.8 351.3Q484.2 361.0 474.3 374.3M499.1 347.9Q483.7 356.6 475.5 372.2M493.6 341.2Q479.8 354.9 473.6 373.5M487.7 341.8Q478.4 353.2 476.2 367.8M498.6 342.3Q482.7 354.2 476.0 372.9M485.6 341.8Q473.3 357.8 469.8 377.6M488.3 342.0Q477.5 355.2 474.1 371.9M495.5 339.0Q484.2 355.4 478.8 374.7M499.7 348.6Q486.5 361.3 478.1 377.6M502.9 340.7Q484.2 352.7 473.1 372.0M486.1 342.2Q479.7 357.2 477.8 373.3M499.8 347.4Q483.0 353.5 471.9 367.6M489.2 339.1Q480.1 356.6 476.6 376.0M491.6 342.2Q480.3 355.5 476.4 372.4M502.3 343.0Q484.9 352.2 476.0 369.8M488.7 340.8Q475.7 354.5 470.3 372.5M495.3 341.7Q478.9 352.8 470.3 370.7M498.1 347.3Q483.0 357.2 472.6 372.1M498.2 342.7Q483.4 353.5 475.3 369.8M488.3 339.9Q477.2 356.9 470.6 376.0M490.6 341.3Q476.2 351.2 470.8 367.8M503.6 344.3Q486.6 355.7 473.8 371.6M489.3 339.6Q477.1 356.5 472.7 376.8M442.4 336.0Q453.0 357.9 457.4 381.7M440.4 349.5Q451.1 361.8 459.3 375.8M437.4 336.3Q445.1 354.7 450.8 373.8M438.4 336.1Q449.1 357.8 453.8 381.5M432.8 347.6Q444.2 363.0 450.3 381.1M440.7 343.0Q453.4 357.2 459.8 375.1M435.3 337.5Q446.1 354.1 450.6 373.4M435.0 345.2Q446.1 359.3 451.3 376.6M440.8 340.3Q449.9 356.9 456.9 374.4M443.1 349.6Q453.6 363.2 457.2 380.0M446.8 345.1Q450.7 361.7 450.1 378.8M443.3 341.6Q447.5 358.0 448.9 374.9M443.7 347.0Q452.1 360.5 454.4 376.2M439.2 343.9Q447.0 362.8 450.4 383.0M483.1 331.5Q475.0 353.1 470.5 375.7M486.7 333.7Q478.2 355.3 472.2 377.7M487.7 329.2Q477.0 353.8 468.6 379.3M480.6 335.0Q476.6 357.7 475.5 380.7M485.3 342.1Q477.0 357.6 471.1 374.1M477.9 328.8Q470.1 353.0 466.5 378.2M477.9 343.9Q475.1 359.4 475.9 375.1M488.4 339.3Q478.7 355.1 473.5 372.8M482.8 328.9Q473.2 350.8 466.5 373.6M480.5 343.5Q474.1 357.9 470.0 373.1M477.7 334.9Q472.0 352.9 470.2 371.8M481.5 328.3Q474.8 350.1 470.7 372.6M439.7 329.7 Q444 336 451 345.7M465 380 L465.2 391M469 378 L468.9 385.4M455 378 L453.8 385.4" stroke="#47035f" stroke-width="1.1" fill="none" opacity="1.0" stroke-linecap="round"/>
<path d="M441.0 376.3a2.0 2.0 0 1 0 4.0 0a2.0 2.0 0 1 0 -4.0 0M446.5 376.6a2.0 2.0 0 1 0 4.0 0a2.0 2.0 0 1 0 -4.0 0M437.8 375.5a2.0 2.0 0 1 0 4.0 0a2.0 2.0 0 1 0 -4.0 0M437.8 373.0a2.0 2.0 0 1 0 4.0 0a2.0 2.0 0 1 0 -4.0 0M443.0 377.4a2.0 2.0 0 1 0 4.0 0a2.0 2.0 0 1 0 -4.0 0M452.5 382.7a2.0 2.0 0 1 0 4.0 0a2.0 2.0 0 1 0 -4.0 0M450.7 378.3a2.0 2.0 0 1 0 4.0 0a2.0 2.0 0 1 0 -4.0 0M444.0 376.4a2.0 2.0 0 1 0 4.0 0a2.0 2.0 0 1 0 -4.0 0M443.4 375.3a2.0 2.0 0 1 0 4.0 0a2.0 2.0 0 1 0 -4.0 0M442.4 374.8a2.0 2.0 0 1 0 4.0 0a2.0 2.0 0 1 0 -4.0 0M457.7 384.0a2.0 2.0 0 1 0 4.0 0a2.0 2.0 0 1 0 -4.0 0M463.6 382.1a2.0 2.0 0 1 0 4.0 0a2.0 2.0 0 1 0 -4.0 0M456.3 377.9a2.0 2.0 0 1 0 4.0 0a2.0 2.0 0 1 0 -4.0 0M456.2 372.2a2.0 2.0 0 1 0 4.0 0a2.0 2.0 0 1 0 -4.0 0M468.8 367.8a2.0 2.0 0 1 0 4.0 0a2.0 2.0 0 1 0 -4.0 0M436.8 373.0a2.0 2.0 0 1 0 4.0 0a2.0 2.0 0 1 0 -4.0 0M446.2 375.9a2.0 2.0 0 1 0 4.0 0a2.0 2.0 0 1 0 -4.0 0M451.8 385.4a2.0 2.0 0 1 0 4.0 0a2.0 2.0 0 1 0 -4.0 0M463.2 391.0a2.0 2.0 0 1 0 4.0 0a2.0 2.0 0 1 0 -4.0 0M466.9 385.4a2.0 2.0 0 1 0 4.0 0a2.0 2.0 0 1 0 -4.0 0M472.6 378.8a2.0 2.0 0 1 0 4.0 0a2.0 2.0 0 1 0 -4.0 0M446.2 375.0a2.0 2.0 0 1 0 4.0 0a2.0 2.0 0 1 0 -4.0 0" fill="#47035f"/>
<text transform="translate(41.40,263.10) rotate(-90)" x="-0.53" y="0" font-size="33.43" textLength="68.10" lengthAdjust="spacingAndGlyphs" fill="#000">tanh</text>
<text transform="translate(40.00,393.40) rotate(-90)" x="-2.20" y="0" font-size="32.70" textLength="68.68" lengthAdjust="spacingAndGlyphs" fill="#000">ReLU</text>
<text transform="translate(79.50,276.80) rotate(-90)" x="-2.09" y="0" font-size="20.64" textLength="104.61" lengthAdjust="spacingAndGlyphs" fill="#000">Inter-class</text>
<text transform="translate(80.40,413.40) rotate(-90)" x="-2.11" y="0" font-size="20.64" textLength="105.33" lengthAdjust="spacingAndGlyphs" fill="#000">Inter-class</text>
<text x="96.19" y="447.70" font-size="18.31" textLength="95.25" lengthAdjust="spacingAndGlyphs" fill="#000">Intra-class</text>
<text x="256.70" y="447.70" font-size="18.31" textLength="95.15" lengthAdjust="spacingAndGlyphs" fill="#000">Intra-class</text>
<text x="417.19" y="447.70" font-size="18.31" textLength="95.25" lengthAdjust="spacingAndGlyphs" fill="#000">Intra-class</text>
<path d="M641.3 40.5V195.3H951.1" stroke="#000" stroke-width="1.1" fill="none"/>
<line x1="637.0999999999999" y1="56.5" x2="641.3" y2="56.5" stroke="#000" stroke-width="1.0"/>
<line x1="637.0999999999999" y1="169.5" x2="641.3" y2="169.5" stroke="#000" stroke-width="1.0"/>
<text x="599.22" y="63.40" font-size="19.62" textLength="31.36" lengthAdjust="spacingAndGlyphs" fill="#000">0.8</text>
<text x="599.23" y="177.90" font-size="19.62" textLength="31.10" lengthAdjust="spacingAndGlyphs" fill="#000">0.2</text>
<text transform="translate(585.80,197.10) rotate(-90)" x="-2.17" y="0" font-size="19.04" textLength="160.74" lengthAdjust="spacingAndGlyphs" fill="#000">Input alignment</text>
<polyline points="655.5,48.7 726.2,188.0 796.3,167.9 866.4,142.9 937.6,114.0" stroke="#e2161c" stroke-width="2.3" fill="none" stroke-linejoin="round"/>
<path d="M655.5 46.7V50.7M726.2 187.0V189.0M796.3 166.9V168.9M866.4 141.9V143.9M937.6 113.0V115.0" stroke="#e2161c" stroke-width="1.5" fill="none"/>
<polyline points="655.5,53.2 726.2,53.2 796.3,55.7 866.4,58.1 937.6,58.5" stroke="#0f168c" stroke-width="2.3" fill="none" stroke-linejoin="round"/>
<path d="M655.5 52.2V54.2M726.2 52.2V54.2M796.3 54.2V57.2M866.4 56.6V59.6M937.6 56.5V60.5" stroke="#0f168c" stroke-width="1.5" fill="none"/>
<path d="M746.5 103.6H784.7M765.2 94.89999999999999V112.3" stroke="#e2161c" stroke-width="2.0" fill="none"/>
<path d="M746.5 131.0H784.7M765.2 122.3V139.7" stroke="#0f168c" stroke-width="2.0" fill="none"/>
<text x="797.95" y="110.10" font-size="20.06" textLength="45.86" lengthAdjust="spacingAndGlyphs" fill="#000">Tanh</text>
<text x="797.42" y="136.80" font-size="20.06" textLength="49.27" lengthAdjust="spacingAndGlyphs" fill="#000">ReLU</text>
<path d="M1050.8 38.3V195.9H1365" stroke="#000" stroke-width="1.1" fill="none"/>
<line x1="1046.6" y1="39.2" x2="1050.8" y2="39.2" stroke="#000" stroke-width="1.0"/>
<line x1="1046.6" y1="176.5" x2="1050.8" y2="176.5" stroke="#000" stroke-width="1.0"/>
<text x="1007.77" y="46.30" font-size="19.62" textLength="31.51" lengthAdjust="spacingAndGlyphs" fill="#000">1.0</text>
<text x="1008.63" y="183.80" font-size="19.62" textLength="30.89" lengthAdjust="spacingAndGlyphs" fill="#000">0.2</text>
<text transform="translate(991.20,204.80) rotate(-90)" x="-0.52" y="0" font-size="19.04" textLength="174.89" lengthAdjust="spacingAndGlyphs" fill="#000">Target alignment</text>
<polyline points="1065.0,189.9 1136.5,119.9 1207.4,68.0 1278.0,52.6 1351.2,47.3" stroke="#e2161c" stroke-width="2.3" fill="none" stroke-linejoin="round"/>
<path d="M1065.0 188.9V190.9M1136.5 117.9V121.9M1207.4 67.0V69.0M1278.0 51.6V53.6M1351.2 46.3V48.3" stroke="#e2161c" stroke-width="1.5" fill="none"/>
<polyline points="1065.0,152.4 1136.5,147.5 1207.4,128.3 1278.0,104.7 1351.2,81.9" stroke="#0f168c" stroke-width="2.3" fill="none" stroke-linejoin="round"/>
<path d="M1065.0 151.4V153.4M1136.5 146.5V148.5M1207.4 124.3V132.3M1278.0 100.7V108.7M1351.2 77.4V86.4" stroke="#0f168c" stroke-width="1.5" fill="none"/>
<path d="M1247.4 142.1H1286.9M1266.5 133.1V151.1" stroke="#e2161c" stroke-width="2.0" fill="none"/>
<path d="M1247.4 170.6H1286.9M1266.5 161.6V179.6" stroke="#0f168c" stroke-width="2.0" fill="none"/>
<text x="1300.65" y="149.40" font-size="20.06" textLength="45.34" lengthAdjust="spacingAndGlyphs" fill="#000">Tanh</text>
<text x="1299.57" y="177.90" font-size="20.06" textLength="47.77" lengthAdjust="spacingAndGlyphs" fill="#000">ReLU</text>
<path d="M640.3 254.0V404.2H955.0" stroke="#000" stroke-width="1.1" fill="none"/>
<line x1="636.0999999999999" y1="262.6" x2="640.3" y2="262.6" stroke="#000" stroke-width="1.0"/>
<line x1="636.0999999999999" y1="289.5" x2="640.3" y2="289.5" stroke="#000" stroke-width="1.0"/>
<line x1="636.0999999999999" y1="316.3" x2="640.3" y2="316.3" stroke="#000" stroke-width="1.0"/>
<line x1="636.0999999999999" y1="343.3" x2="640.3" y2="343.3" stroke="#000" stroke-width="1.0"/>
<line x1="636.0999999999999" y1="370.4" x2="640.3" y2="370.4" stroke="#000" stroke-width="1.0"/>
<line x1="636.0999999999999" y1="397.4" x2="640.3" y2="397.4" stroke="#000" stroke-width="1.0"/>
<line x1="654.5" y1="404.2" x2="654.5" y2="408.4" stroke="#000" stroke-width="1.0"/>
<line x1="797.2" y1="404.2" x2="797.2" y2="408.4" stroke="#000" stroke-width="1.0"/>
<line x1="940.6" y1="404.2" x2="940.6" y2="408.4" stroke="#000" stroke-width="1.0"/>
<text x="619.50" y="269.40" font-size="19.62" textLength="10.96" lengthAdjust="spacingAndGlyphs" fill="#000">1</text>
<text x="619.03" y="404.50" font-size="19.62" textLength="12.45" lengthAdjust="spacingAndGlyphs" fill="#000">0</text>
<text x="631.82" y="435.20" font-size="19.62" textLength="31.47" lengthAdjust="spacingAndGlyphs" fill="#000">0.0</text>
<text x="778.26" y="435.20" font-size="19.62" textLength="33.56" lengthAdjust="spacingAndGlyphs" fill="#000">0.5</text>
<text x="924.26" y="435.20" font-size="19.62" textLength="31.73" lengthAdjust="spacingAndGlyphs" fill="#000">1.0</text>
<text x="735.39" y="461.00" font-size="19.33" textLength="149.69" lengthAdjust="spacingAndGlyphs" fill="#000">Separability (δ)</text>
<text transform="translate(589.20,357.70) rotate(-90)" x="-0.96" y="0" font-size="19.04" textLength="54.45" lengthAdjust="spacingAndGlyphs" fill="#000">CCGP</text>
<polyline points="654.5,386.0 725.5,315.4 797.2,273.0 869.0,262.8 940.6,261.9" stroke="#e2161c" stroke-width="2.3" fill="none" stroke-linejoin="round"/>
<path d="M654.5 385.0V387.0M725.5 314.4V316.4M797.2 272.0V274.0M869.0 261.8V263.8M940.6 260.9V262.9" stroke="#e2161c" stroke-width="1.5" fill="none"/>
<polyline points="654.5,386.0 725.5,386.8 797.2,377.5 869.0,336.2 940.6,281.3" stroke="#0f168c" stroke-width="2.3" fill="none" stroke-linejoin="round"/>
<path d="M654.5 379.0V393.0M725.5 382.8V390.8M797.2 362.5V392.5M869.0 317.2V355.2M940.6 261.8V300.8" stroke="#0f168c" stroke-width="1.5" fill="none"/>
<path d="M846 354.6H881.8M864.1 346.3V362.90000000000003" stroke="#e2161c" stroke-width="1.4" fill="none"/>
<path d="M846 379.6H881.8M864.1 371.3V387.90000000000003" stroke="#0f168c" stroke-width="1.4" fill="none"/>
<text x="896.03" y="361.20" font-size="18.75" textLength="37.44" lengthAdjust="spacingAndGlyphs" fill="#000">Tanh</text>
<text x="894.95" y="385.60" font-size="18.75" textLength="45.22" lengthAdjust="spacingAndGlyphs" fill="#000">ReLU</text>
<path d="M1051.4 247.4V405.0H1374.7" stroke="#000" stroke-width="1.1" fill="none"/>
<line x1="1047.2" y1="254.1" x2="1051.4" y2="254.1" stroke="#000" stroke-width="1.0"/>
<line x1="1047.2" y1="340.1" x2="1051.4" y2="340.1" stroke="#000" stroke-width="1.0"/>
<line x1="1068.8" y1="405.0" x2="1068.8" y2="409.2" stroke="#000" stroke-width="1.0"/>
<line x1="1215.4" y1="405.0" x2="1215.4" y2="409.2" stroke="#000" stroke-width="1.0"/>
<line x1="1361.1" y1="405.0" x2="1361.1" y2="409.2" stroke="#000" stroke-width="1.0"/>
<text x="1028.37" y="262.50" font-size="19.62" textLength="11.87" lengthAdjust="spacingAndGlyphs" fill="#000">1</text>
<text x="1028.73" y="346.90" font-size="19.62" textLength="12.45" lengthAdjust="spacingAndGlyphs" fill="#000">0</text>
<text x="1045.79" y="432.40" font-size="19.62" textLength="32.21" lengthAdjust="spacingAndGlyphs" fill="#000">0.0</text>
<text x="1193.10" y="432.40" font-size="19.62" textLength="32.18" lengthAdjust="spacingAndGlyphs" fill="#000">0.5</text>
<text x="1338.84" y="432.40" font-size="19.62" textLength="32.06" lengthAdjust="spacingAndGlyphs" fill="#000">1.0</text>
<text x="1149.70" y="458.40" font-size="19.33" textLength="148.17" lengthAdjust="spacingAndGlyphs" fill="#000">Separability (δ)</text>
<text transform="translate(991.90,380.10) rotate(-90)" x="-1.85" y="0" font-size="19.04" textLength="110.44" lengthAdjust="spacingAndGlyphs" fill="#000">Parallelism</text>
<polyline points="1064.7,397.7 1139.4,255.4 1212.6,254.8 1286.7,254.8 1359.5,255.4" stroke="#e2161c" stroke-width="2.3" fill="none" stroke-linejoin="round"/>
<path d="M1064.7 396.7V398.7M1139.4 254.4V256.4M1212.6 253.8V255.8M1286.7 253.8V255.8M1359.5 254.4V256.4" stroke="#e2161c" stroke-width="1.5" fill="none"/>
<polyline points="1064.7,365.0 1139.4,360.9 1212.6,348.2 1286.7,330.5 1359.5,313.7" stroke="#0f168c" stroke-width="2.3" fill="none" stroke-linejoin="round"/>
<path d="M1064.7 364.0V366.0M1139.4 359.9V361.9M1212.6 346.2V350.2M1286.7 327.5V333.5M1359.5 309.2V318.2" stroke="#0f168c" stroke-width="1.5" fill="none"/>
<path d="M1162.3 271.8H1201.6M1182.4 263.0V280.6" stroke="#e2161c" stroke-width="2.0" fill="none"/>
<path d="M1162.3 298.5H1201.6M1182.4 289.3V307.7" stroke="#0f168c" stroke-width="2.0" fill="none"/>
<text x="1215.26" y="278.50" font-size="20.06" textLength="44.30" lengthAdjust="spacingAndGlyphs" fill="#000">Tanh</text>
<text x="1214.14" y="305.50" font-size="20.06" textLength="48.63" lengthAdjust="spacingAndGlyphs" fill="#000">ReLU</text></svg></body></html>
